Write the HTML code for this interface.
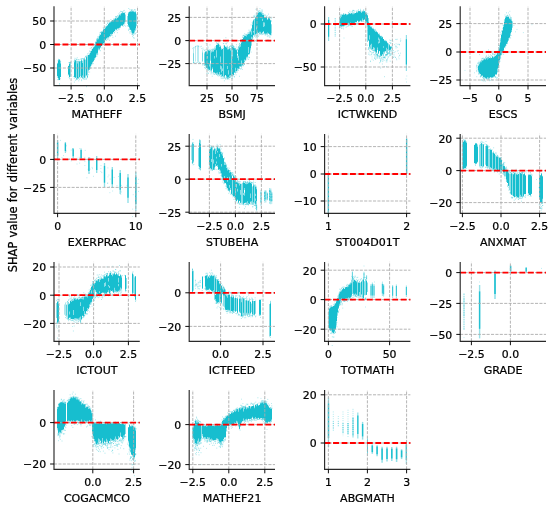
<!DOCTYPE html>
<html><head><meta charset="utf-8"><title>SHAP</title><style>html,body{margin:0;padding:0;background:#fff}svg{display:block}text{stroke:#000;stroke-width:.24px}</style></head><body>
<svg width="550" height="508" viewBox="0 0 550 508">
<rect width="550" height="508" fill="#fff"/>
<g font-family="DejaVu Sans, Liberation Sans, sans-serif" font-size="10.9" fill="#000">
<g>
<path d="M57 63.7h.5V75.9h-.5zM57.5 62.7h.5V76.7h-.5zM58 60.5h.5V78.2h-.5zM58.5 59.6h.5V79.4h-.5zM59 59.2h.5V80h-.5zM59.5 59.7h.5V80h-.5zM60 61.3h.5V76.9h-.5zM60.5 63.6h.5V77.1h-.5z" fill="#17becf" fill-opacity="1.0"/>
<path d="M57.8 79.6h0M57.9 60.8h0M57.6 77.5h0M58.5 79.4h0M58.6 59.3h0M58.2 79.7h0M59.6 83.6h0M59.7 84.9h0M60.1 60.4h0M59.9 79.7h0M60.7 61.4h0M60.4 78.3h0" stroke="#17becf" stroke-width="0.8" stroke-linecap="round" stroke-opacity="0.55" fill="none"/>
<path d="M68 65.7h.5V74.4h-.5zM68.5 66h.5V74.7h-.5zM69 64h.5V77h-.5zM69.5 62.1h.5V77.3h-.5zM70 62.5h.5V76.7h-.5z" fill="#17becf" fill-opacity="1.0"/>
<path d="M68.2 75.2h0M68.9 62.6h0M69 77.4h0M69.4 78.7h0M70.3 62.3h0M70.6 62.3h0" stroke="#17becf" stroke-width="0.8" stroke-linecap="round" stroke-opacity="0.55" fill="none"/>
<path d="M74 62.3h.5V77.2h-.5zM74.5 59.5h.5V77.3h-.5zM75 60.3h.5V77.4h-.5zM75.5 60.2h.5V77.9h-.5zM76.5 60.8h.5V77.8h-.5zM77 61.1h.5V78.2h-.5zM77.5 63.6h.5V77.9h-.5zM78.5 60.7h.5V77.9h-.5zM79 61.8h.5V77.1h-.5zM79.5 61.1h.5V77.5h-.5zM80 60.9h.5V76.3h-.5zM81 60.5h.5V77h-.5zM81.5 59.7h.5V77.5h-.5zM82 60.7h.5V77.6h-.5zM82.5 63.1h.5V75.4h-.5zM83.5 58.2h.5V77h-.5zM84 57.9h.5V78.1h-.5zM84.5 59.5h.5V77.5h-.5zM85.5 59.5h.5V76.7h-.5zM86 57.2h.5V76.1h-.5zM86.5 56.3h.5V75.1h-.5zM87 56.4h.5V78.1h-.5zM88 55h.5V71.4h-.5zM88.5 55.1h.5V69.8h-.5z" fill="#17becf" fill-opacity="1.0"/>
<path d="M74.1 61.4h0M73.7 76.5h0M74.2 78.4h0M75 58.3h0M74.3 82.1h0M75.3 80.3h0M76.1 59.3h0M76.3 79.7h0M76.2 78.9h0M76.3 59.2h0M76.4 79h0M76.7 78.4h0M77 59.6h0M76.6 78.7h0M77.2 78.5h0M77 60h0M77.4 77.8h0M77.2 57.8h0M77.6 79.4h0M78.5 59.5h0M77.7 77.8h0M78.4 78h0M78.3 78.7h0M78.7 77.8h0M78.8 80.8h0M79.4 79.3h0M79.7 59.9h0M80.1 78h0M81 59h0M81 77.5h0M81.2 59.3h0M81.7 79.7h0M81.3 58.9h0M81.7 80.7h0M82.2 58.5h0M82.2 77.5h0M82.4 77.3h0M82.7 58.9h0M82.8 77.9h0M83 78.3h0M83 78.2h0M83.5 77.7h0M83.9 79.1h0M84.1 78.8h0M84.8 57.7h0M85.1 79.4h0M85.5 56.6h0M85.1 77.7h0M84.7 95.2h0M85.9 56.9h0M85.7 77.9h0M86.1 56h0M86.5 86.7h0M87.1 55.4h0M86.6 79.2h0M87.6 56.1h0M86.8 78.3h0M88.3 55.2h0M87.6 76.5h0M87.2 76.5h0M87.7 53.8h0M88.4 74.7h0M88.9 53.1h0M88.7 72.3h0" stroke="#17becf" stroke-width="0.8" stroke-linecap="round" stroke-opacity="0.55" fill="none"/>
<path d="M89 54.7h.5V70h-.5zM89.5 53.6h.5V68.4h-.5zM90 52.9h.5V67.2h-.5zM90.5 51.5h.5V66h-.5zM91 50.9h.5V65.5h-.5zM91.5 50.5h.5V64h-.5zM92 49.1h.5V62.6h-.5zM92.5 48.5h.5V62.5h-.5zM93 47.2h.5V61.8h-.5zM93.5 47.6h.5V60.8h-.5zM94 46.7h.5V60h-.5zM94.5 45.6h.5V57.9h-.5zM95 44h.5V57.6h-.5zM95.5 42h.5V57.3h-.5zM96 42h.5V55h-.5zM96.5 40h.5V53.5h-.5zM97 39.4h.5V54.2h-.5zM97.5 38.2h.5V52.8h-.5zM98 39.2h.5V50.2h-.5zM98.5 37.6h.5V48.6h-.5zM99 35.2h.5V50.3h-.5zM99.5 36.3h.5V48.8h-.5zM100 34.9h.5V47h-.5zM100.5 34.8h.5V47.7h-.5zM101 32.4h.5V46.1h-.5zM101.5 31.6h.5V46.1h-.5zM102 32.1h.5V45.3h-.5zM102.5 30.8h.5V44.5h-.5zM103 29.6h.5V42.9h-.5zM103.5 29.2h.5V43.5h-.5zM104 29h.5V42.9h-.5zM104.5 28.7h.5V42h-.5zM105 27.2h.5V40.1h-.5zM105.5 28.2h.5V39.7h-.5zM106 26.7h.5V38.3h-.5zM106.5 26.1h.5V38.7h-.5zM107 25.8h.5V37.3h-.5zM107.5 24.9h.5V38.2h-.5zM108 24h.5V38.1h-.5zM108.5 23.4h.5V37h-.5zM109 22.6h.5V36.5h-.5zM109.5 22.7h.5V35.9h-.5zM110 22.3h.5V36h-.5zM110.5 22.3h.5V34.1h-.5zM111 21.5h.5V34.8h-.5zM111.5 21.1h.5V33.7h-.5zM112 20.1h.5V34h-.5zM112.5 20.2h.5V33.4h-.5zM113 19.5h.5V32.2h-.5zM113.5 20.4h.5V31.9h-.5zM114 19.3h.5V30.9h-.5zM114.5 19.6h.5V31.3h-.5zM115 18.6h.5V29.3h-.5zM115.5 18.1h.5V29.7h-.5zM116 19.3h.5V30.2h-.5zM116.5 17.7h.5V29.4h-.5zM117 17.5h.5V28.6h-.5zM117.5 18h.5V28.8h-.5zM118 17.2h.5V28.6h-.5zM118.5 15.7h.5V28.3h-.5zM119 15h.5V27.6h-.5zM119.5 15.3h.5V27.7h-.5zM120 15.6h.5V27.5h-.5zM120.5 13.8h.5V26.3h-.5zM121 13.5h.5V25.8h-.5zM121.5 12.9h.5V25.2h-.5zM122 13.2h.5V25.9h-.5zM122.5 12h.5V25.2h-.5zM123 13.1h.5V24.7h-.5zM123.5 12.4h.5V24.1h-.5zM124 12.6h.5V23.8h-.5zM124.5 13.2h.5V22.3h-.5zM125 14.6h.5V21.8h-.5z" fill="#17becf" fill-opacity="1.0"/>
<path d="M89.6 51h0M89.7 72h0M90.1 51.6h0M89.4 69.2h0M90.2 48.3h0M90.6 68.6h0M91.1 51.1h0M90.2 67.6h0M91.7 49.1h0M90.7 67h0M91.5 47.5h0M92 64h0M92.9 63.7h0M93 46.8h0M93 63.4h0M94 45.4h0M94.1 44.6h0M93.7 60.5h0M95.3 43.7h0M95.4 42.8h0M94.7 58.7h0M95.8 41.7h0M95.5 57.7h0M96.5 39.5h0M95.8 56.2h0M97.2 38.4h0M96.9 55.8h0M96.9 39.1h0M96.8 56.3h0M97.9 37.2h0M97.8 53.9h0M98.1 36.6h0M97.7 54.5h0M99.2 36.3h0M99.8 34.4h0M100.2 34.6h0M100.1 33.1h0M100.2 32.5h0M100.4 50.7h0M100.7 32.4h0M100.8 47.7h0M101.2 31.8h0M102.1 47.9h0M103.2 27.7h0M103.4 28.4h0M103 44.3h0M103.8 43.4h0M104.7 42.3h0M105.5 27h0M106.1 26.3h0M106.3 21.2h0M105.8 40.4h0M106.5 24.7h0M106.4 40.2h0M107.4 23.4h0M107.3 39.6h0M107.5 22.9h0M107.9 38.6h0M108.8 39h0M109.3 40.3h0M109 22.2h0M109.7 36.9h0M110.3 36.5h0M110.7 21.6h0M110.9 19.5h0M110.4 35.5h0M111.5 35.3h0M112.2 35.3h0M111.9 34h0M112.7 33.5h0M112.9 37.3h0M113.6 19h0M114.2 32.3h0M114.8 18.6h0M114.4 32.8h0M115.6 16.8h0M115.6 36.2h0M116 17h0M116 16.8h0M115.8 31h0M116.5 16.7h0M117 17.1h0M117.7 30.2h0M117.9 15.9h0M117.3 32.7h0M117.7 15.9h0M118.7 29.1h0M118.8 13.9h0M119.2 29.1h0M119.6 14.5h0M119.2 27.6h0M119.8 12.8h0M119.8 27.7h0M120.5 11.3h0M120.2 27h0M121.3 11.6h0M122.1 11.7h0M122.6 25.6h0M122.3 11.8h0M123.2 26.3h0M123.7 11h0M123.8 24.8h0M124.2 10.4h0M124.6 25.2h0M125.3 12.3h0M125.1 23h0M124.7 13.4h0M125.7 26.2h0" stroke="#17becf" stroke-width="0.8" stroke-linecap="round" stroke-opacity="0.55" fill="none"/>
<path d="M127.5 16.1h.5V23.9h-.5zM128 13.5h.5V25.3h-.5zM128.5 12.5h.5V27h-.5zM129 12.1h.5V28.3h-.5zM129.5 11.4h.5V27.5h-.5zM130 11.7h.5V29.7h-.5zM130.5 10.9h.5V29.8h-.5zM131 10.7h.5V30.4h-.5zM131.5 11.7h.5V32.2h-.5zM132 10.7h.5V32.9h-.5zM132.5 11.4h.5V34h-.5zM133 10.9h.5V33.1h-.5zM133.5 11.8h.5V33.9h-.5zM134 12.3h.5V32.7h-.5zM134.5 11.6h.5V30.6h-.5zM135 11.6h.5V30.8h-.5zM135.5 12.2h.5V28.2h-.5zM136 13.8h.5V26.3h-.5z" fill="#17becf" fill-opacity="1.0"/>
<path d="M128 14.9h0M128 25.4h0M128.7 12.7h0M127.7 26h0M128.5 30.4h0M128.5 29.2h0M128.8 8.5h0M129.6 29.4h0M129.6 28.7h0M130 33h0M130.1 29.1h0M129.9 9.7h0M130 31.8h0M130.8 29.8h0M131.3 30.7h0M131.1 10.2h0M131.8 34.1h0M131.1 31.5h0M131.8 9.9h0M131.6 32.6h0M131.8 10.3h0M132.3 34.1h0M132.7 36.6h0M132.2 9.9h0M132.5 34.3h0M133.8 10.3h0M133.2 35.2h0M133.2 35.2h0M133.7 37.7h0M134 33.9h0M134.8 33.9h0M134.4 9.7h0M134.2 38.2h0M135.2 9.8h0M134.7 31.6h0M135.4 33.7h0M135.6 11.3h0M136.2 32.4h0M136.1 29h0" stroke="#17becf" stroke-width="0.8" stroke-linecap="round" stroke-opacity="0.55" fill="none"/>
<path d="M71.1 85.6V6.2M104.3 85.6V6.2M137.5 85.6V6.2M54 21H139.8M54 44.5H139.8M54 68H139.8" stroke="#adadad" stroke-width="0.9" stroke-dasharray="3.07 1.33" fill="none"/>
<path d="M54 44.5H139.8" stroke="#f00" stroke-width="1.8" stroke-dasharray="5.9 2.56" fill="none"/>
<path d="M54 6.2V85.6H139.8" stroke="#2a2a2a" stroke-width="1.15" fill="none"/>
<path d="M71.1 85.6v3.9M104.3 85.6v3.9M137.5 85.6v3.9M54 21h-3.9M54 44.5h-3.9M54 68h-3.9" stroke="#000" stroke-width="0.95" fill="none"/>
<text x="71.1" y="102.2" text-anchor="middle">−2.5</text>
<text x="104.3" y="102.2" text-anchor="middle">0.0</text>
<text x="137.5" y="102.2" text-anchor="middle">2.5</text>
<text x="46.1" y="25.3" text-anchor="end">50</text>
<text x="46.1" y="48.8" text-anchor="end">0</text>
<text x="46.1" y="72.3" text-anchor="end">−50</text>
<text x="96.9" y="118.1" text-anchor="middle" font-size="11.05">MATHEFF</text>
</g>
<g>
<path d="M193 48.7h.5V62.9h-.5zM193.5 53.3h.5V61.3h-.5zM195.5 46.1h.5V61.4h-.5zM197 45.9h.5V61.4h-.5zM198.5 45.4h.5V62.5h-.5zM202 52.5h.5V61.5h-.5zM202.5 50.3h.5V61.4h-.5zM204 54.1h.5V61.8h-.5z" fill="#17becf" fill-opacity="0.6"/>
<path d="M192.8 48.4h0M193.5 62.3h0M193.4 47.8h0M193.5 62.7h0M194.2 47.8h0M194.3 62.4h0M195.8 63.6h0M195.3 46.7h0M196.2 46.2h0M197.3 45.7h0M196.2 62.6h0M197.4 62.3h0M198.5 46.3h0M199.4 62.3h0M200.1 46.8h0M199.4 63h0M200.3 63.4h0M201.3 46.3h0M200.4 63.1h0M201.8 48.6h0M202.4 63.6h0M203 48.1h0M202.9 65.2h0M203.1 49.7h0M203 64.5h0M204.5 50.4h0M204.8 65.5h0" stroke="#17becf" stroke-width="0.8" stroke-linecap="round" stroke-opacity="0.55" fill="none"/>
<path d="M204.5 52.6h.5V65.6h-.5zM205 51.4h.5V64.7h-.5zM205.5 52.1h.5V66.4h-.5zM206 51h.5V67.9h-.5zM206.5 51.8h.5V67.7h-.5zM207 50.1h.5V56.1h-.5zM207 58.4h.5V69.5h-.5zM207.5 53.4h.5V68.2h-.5zM208 50.4h.5V68.7h-.5zM208.5 50.2h.5V70.4h-.5zM209 50.7h.5V64.2h-.5zM209 66.6h.5V69.7h-.5zM209.5 50.8h.5V69.9h-.5zM210 50.4h.5V60.8h-.5zM210 63.6h.5V70.8h-.5zM211 50.7h.5V71.8h-.5zM211.5 52.4h.5V70.2h-.5zM212 49.8h.5V67.4h-.5zM212.5 51.7h.5V68.9h-.5zM213 50.6h.5V72.2h-.5zM213.5 51.8h.5V72.7h-.5zM214 49.8h.5V72.7h-.5zM214.5 49.3h.5V55.9h-.5zM214.5 58.6h.5V72.5h-.5zM215 49.4h.5V73.5h-.5zM215.5 48.1h.5V73.1h-.5zM216 45h.5V50.2h-.5zM216 57.5h.5V74.1h-.5zM216.5 44.8h.5V72.8h-.5zM217 44.7h.5V72.5h-.5zM217.5 44.4h.5V74.3h-.5zM218 43.7h.5V73.9h-.5zM218.5 44.3h.5V75h-.5zM219 44.7h.5V74.7h-.5zM219.5 46.9h.5V71.9h-.5zM220 46.6h.5V65.4h-.5zM220 69.2h.5V75.3h-.5zM220.5 46.5h.5V56.4h-.5zM220.5 62.5h.5V74.5h-.5zM221 49.7h.5V76.5h-.5zM221.5 48.4h.5V66.2h-.5zM221.5 72.5h.5V74.2h-.5zM222 49.1h.5V68.4h-.5zM222 70.9h.5V75.9h-.5zM222.5 49.1h.5V76.6h-.5zM223 47.9h.5V77.1h-.5zM224 45.7h.5V76.2h-.5zM224.5 45.1h.5V77.5h-.5zM225 46.5h.5V75.1h-.5zM225.5 47.1h.5V75.2h-.5zM226 46.9h.5V77.9h-.5zM226.5 47.7h.5V76.2h-.5zM227 46.6h.5V77.5h-.5zM227.5 49.5h.5V65.9h-.5zM227.5 69.1h.5V78.4h-.5zM228 48.5h.5V77.3h-.5zM228.5 49.5h.5V70.2h-.5zM228.5 74.4h.5V78.2h-.5zM229 48.3h.5V78h-.5zM229.5 48.4h.5V75.5h-.5zM230 48h.5V75.1h-.5zM230.5 50.5h.5V76.8h-.5zM231 46.1h.5V76.1h-.5zM232 45h.5V49.7h-.5zM232 56.5h.5V75.7h-.5zM232.5 46.9h.5V73.9h-.5zM233 46.2h.5V75.2h-.5zM233.5 47.8h.5V74.8h-.5zM234 48.1h.5V72.3h-.5zM234.5 48.4h.5V73h-.5zM235 49.5h.5V67.7h-.5zM235 70.7h.5V73h-.5zM235.5 48.3h.5V71.1h-.5zM236 49.2h.5V71h-.5zM236.5 50.2h.5V71.3h-.5zM237 48.8h.5V50.6h-.5zM237 55.6h.5V70.3h-.5zM237.5 51.7h.5V54h-.5zM237.5 57.9h.5V68.3h-.5zM238 46.8h.5V68.4h-.5zM238.5 49.7h.5V55.8h-.5zM238.5 60.4h.5V69.2h-.5zM239 47.6h.5V66.2h-.5zM239.5 45h.5V68.8h-.5zM240 46.7h.5V66.5h-.5zM240.5 44h.5V66.4h-.5zM241 42.7h.5V66.9h-.5zM241.5 41h.5V60.6h-.5zM241.5 64.5h.5V65.6h-.5zM242 39.2h.5V64.8h-.5zM242.5 38.9h.5V65.6h-.5z" fill="#17becf" fill-opacity="1.0"/>
<path d="M205.3 51.4h0M204.6 67.6h0M205.3 68h0M205.2 49.8h0M205.5 68.1h0M206.2 43.4h0M206.8 73.3h0M207.1 49.6h0M206.3 69h0M207.8 46.6h0M208.2 47.9h0M208 70.1h0M208.3 50h0M208 72.8h0M209.3 49.6h0M208.3 73.5h0M209.3 50.6h0M209.4 71h0M210 44.9h0M210.7 50.5h0M210.9 49.3h0M210.3 71.9h0M211 73.9h0M211.6 49.8h0M211.9 72.9h0M212.6 49.3h0M211.9 72.6h0M213.3 49.6h0M212.2 76.2h0M213.2 48.8h0M213.2 74.1h0M213.4 49.8h0M213.9 73.6h0M214.7 47.9h0M214.5 74.5h0M214.6 48.4h0M215.7 47.4h0M215.3 73.4h0M215.2 46.5h0M216.3 74.5h0M216.7 42.7h0M215.9 73.9h0M217.3 44h0M216.7 74.6h0M217 43.4h0M217.7 75.3h0M217.6 43.6h0M217.2 74.2h0M218.7 44.1h0M218 75h0M218.6 43.2h0M218.2 76.1h0M219.1 41.7h0M219.7 75.2h0M219.7 75.5h0M220.3 45.7h0M220.2 76.3h0M220.7 46.5h0M221 78h0M221.3 76.6h0M222 48.9h0M222 76.3h0M221.9 78.3h0M223.2 47.9h0M222.9 77.9h0M223.7 46h0M223.2 78.4h0M223.3 43.5h0M223.9 77.4h0M223.8 43.7h0M224.4 78.2h0M225 41.3h0M224.3 80.8h0M225.8 43.6h0M225 77.6h0M225.9 37.7h0M225.6 78.6h0M226.4 43.8h0M225.9 79.3h0M227.1 42.7h0M226.3 78.3h0M226.8 46.5h0M227.5 78.4h0M227.3 45.9h0M227.4 79.2h0M228.8 47.5h0M227.9 78.6h0M229.3 47.6h0M228.8 78.5h0M229 79.3h0M229.5 46.8h0M229.5 77.5h0M229.7 46.6h0M230.1 77.3h0M230.5 45.9h0M230.9 77.4h0M230.7 46.2h0M231.8 78.5h0M231.4 45.7h0M232.3 77.8h0M232.7 40.1h0M232.1 76.1h0M232.2 44.9h0M232.2 78.2h0M233.6 45.8h0M233.2 75.9h0M233.6 46.4h0M234.1 74.5h0M234.4 46.9h0M234.3 76.4h0M234.8 48.1h0M234.6 77h0M235.7 48.5h0M235.5 73.1h0M236.2 47h0M236 74.8h0M236.4 44.7h0M236.3 72.2h0M236.8 71h0M238.2 47.3h0M237.2 72.1h0M238.6 46.4h0M238 70.4h0M238.7 40.9h0M238.2 70.2h0M239.4 43.6h0M239.6 76.3h0M239.2 44.4h0M239.9 68.5h0M239.9 43.8h0M240.4 42h0M240.5 69h0M240.9 41.6h0M241.4 68.1h0M241.3 39.5h0M242.2 69.5h0M242.6 37.3h0M241.8 67.9h0M243.2 37.6h0M243 65.9h0" stroke="#17becf" stroke-width="0.8" stroke-linecap="round" stroke-opacity="0.55" fill="none"/>
<path d="M242.5 39.1h.5V64h-.5zM243 38h.5V64.2h-.5zM243.5 36.8h.5V63.9h-.5zM244 36.3h.5V59.6h-.5zM244.5 35.8h.5V62h-.5zM245 35.6h.5V60.8h-.5zM245.5 36.1h.5V59.8h-.5zM246 36.4h.5V57.9h-.5zM246.5 34.9h.5V56.8h-.5zM247 35h.5V56.4h-.5zM247.5 34.2h.5V56.7h-.5zM248 33.5h.5V47h-.5zM248 53h.5V54h-.5zM248.5 33.9h.5V55h-.5zM249 33.8h.5V54.2h-.5zM249.5 32h.5V53.4h-.5zM250 32.2h.5V50.5h-.5zM250.5 31.1h.5V48.2h-.5zM251 29.8h.5V30.6h-.5zM251 34.8h.5V45.3h-.5zM251.5 28.5h.5V36.7h-.5zM251.5 39.1h.5V41.6h-.5zM252 25h.5V39.8h-.5zM252.5 22.5h.5V37.3h-.5zM253 20.6h.5V31.1h-.5zM253 32.4h.5V35.1h-.5zM253.5 19.6h.5V35.4h-.5zM254.5 19h.5V35.2h-.5zM255 18.2h.5V35.6h-.5zM255.5 16.8h.5V34h-.5zM256 16.2h.5V26.6h-.5zM256 29.6h.5V33.9h-.5zM256.5 14.8h.5V33.3h-.5zM257 14.4h.5V34.3h-.5zM257.5 14.4h.5V31.8h-.5zM258 12.9h.5V32.9h-.5zM258.5 12.3h.5V32.7h-.5zM259 11.9h.5V31.7h-.5zM259.5 12.2h.5V33.8h-.5zM260 11.6h.5V31.8h-.5zM260.5 12.4h.5V33.4h-.5zM261 13.5h.5V33.5h-.5zM261.5 12.5h.5V33.6h-.5zM262 12.8h.5V33.1h-.5zM262.5 15h.5V18.8h-.5zM262.5 20.9h.5V31.9h-.5zM263 15.1h.5V22.3h-.5zM263 26.9h.5V32.2h-.5zM263.5 14.6h.5V30.9h-.5zM264 17.1h.5V22.6h-.5zM264 26.3h.5V33.4h-.5zM264.5 17.5h.5V33.2h-.5zM265 17.3h.5V33.5h-.5zM265.5 17.4h.5V34.1h-.5zM266 17h.5V33.5h-.5zM266.5 17.1h.5V33.7h-.5zM267 19h.5V34.6h-.5zM267.5 19.9h.5V32.4h-.5zM268 18.1h.5V34h-.5zM268.5 18.4h.5V33.1h-.5zM269 18.6h.5V34.6h-.5zM269.5 18.6h.5V34.3h-.5zM270 19.9h.5V34.7h-.5zM270.5 20.6h.5V34.9h-.5zM271 20.5h.5V21.6h-.5zM271 24.2h.5V33.5h-.5z" fill="#17becf" fill-opacity="1.0"/>
<path d="M243.3 35.3h0M243.2 65.6h0M242.8 36h0M243.3 64.9h0M243.5 35.5h0M244.3 64.4h0M244.7 36h0M244.4 64.5h0M244.8 35.4h0M244.2 61.9h0M244.7 33.8h0M244.7 61.9h0M245.9 34.4h0M246.2 59.8h0M246.8 34.4h0M246 58.5h0M246.2 34.6h0M247.2 58.8h0M247.8 34.3h0M247.4 57.3h0M248 33.2h0M247.8 56.8h0M248.1 32.6h0M248.4 59.3h0M249 32.2h0M249.2 57.6h0M248.9 30.2h0M249.1 57.2h0M250.2 30.2h0M249.4 53.8h0M249.7 31.4h0M250.1 51.1h0M251.1 24.9h0M251.1 52.1h0M251.4 28.9h0M250.7 46.1h0M252.3 27.3h0M251.3 45.4h0M252.2 22.7h0M252.4 41h0M252.9 21.6h0M252.9 37.8h0M253.8 16h0M252.9 37h0M254.3 16.3h0M254.2 41.3h0M254.5 17.4h0M254.8 36.2h0M254.2 16.3h0M254.5 35.9h0M255.1 15.1h0M255.7 37.1h0M256 9.3h0M256.1 41.4h0M256.2 13.3h0M256.3 35.3h0M257.1 13.6h0M256.6 37h0M257.6 13.6h0M257.6 37.6h0M258.3 12.1h0M257.6 35.8h0M257.9 11.2h0M258.4 36.4h0M259 11.5h0M258.9 34.1h0M258.8 10.9h0M258.9 35.2h0M259.8 10.5h0M259.8 33.7h0M260 8.6h0M260.3 34.1h0M261.3 10.1h0M260.2 34h0M261.7 12h0M261.8 34.7h0M261.7 12.4h0M262.3 34.1h0M262.2 11.4h0M261.7 33.6h0M262.5 10.1h0M262.7 34h0M263.6 13.6h0M263.7 33.9h0M263.9 15h0M264.3 33.6h0M264.7 15.1h0M263.9 33.8h0M264.9 15.9h0M265 34.9h0M265.5 15.1h0M265.8 33.7h0M266.3 16.6h0M266 34.5h0M266.7 17h0M265.7 34.9h0M267.1 15.6h0M267.1 34.3h0M266.9 17.8h0M267.2 36h0M268.1 17.2h0M268 36.7h0M268.4 14.1h0M268 39.7h0M268.4 18.1h0M268.2 35.5h0M269.2 18.4h0M269.7 37h0M269.4 16.8h0M270.1 37h0M269.9 19.3h0M269.9 35.2h0M271.1 17.3h0M271 35.3h0M271.1 18.6h0M271.5 34.3h0" stroke="#17becf" stroke-width="0.8" stroke-linecap="round" stroke-opacity="0.55" fill="none"/>
<path d="M207 85.6V6.2M232 85.6V6.2M257 85.6V6.2M189.2 17.4H275M189.2 40.6H275M189.2 63.6H275" stroke="#adadad" stroke-width="0.9" stroke-dasharray="3.07 1.33" fill="none"/>
<path d="M189.2 40.6H275" stroke="#f00" stroke-width="1.8" stroke-dasharray="5.9 2.56" fill="none"/>
<path d="M189.2 6.2V85.6H275" stroke="#2a2a2a" stroke-width="1.15" fill="none"/>
<path d="M207 85.6v3.9M232 85.6v3.9M257 85.6v3.9M189.2 17.4h-3.9M189.2 40.6h-3.9M189.2 63.6h-3.9" stroke="#000" stroke-width="0.95" fill="none"/>
<text x="207" y="102.2" text-anchor="middle">25</text>
<text x="232" y="102.2" text-anchor="middle">50</text>
<text x="257" y="102.2" text-anchor="middle">75</text>
<text x="181.3" y="21.7" text-anchor="end">25</text>
<text x="181.3" y="44.9" text-anchor="end">0</text>
<text x="181.3" y="67.9" text-anchor="end">−25</text>
<text x="232.1" y="118.1" text-anchor="middle" font-size="11.05">BSMJ</text>
</g>
<g>
<path d="M339.5 16.9h.5V26.2h-.5zM340 16.1h.5V26.5h-.5zM340.5 18.2h.5V26h-.5zM341 16.8h.5V26.4h-.5zM341.5 15.1h.5V26.5h-.5zM342 14.8h.5V26.3h-.5zM342.5 15h.5V26.3h-.5zM343 14.5h.5V26h-.5zM343.5 14.3h.5V26.4h-.5zM344 15h.5V26h-.5zM344.5 14.3h.5V25.1h-.5zM345 14.1h.5V25.6h-.5zM345.5 13.7h.5V24.7h-.5zM346 14h.5V25.3h-.5zM346.5 15.3h.5V24.9h-.5zM347 15h.5V24h-.5zM347.5 13.9h.5V25h-.5zM348 13.6h.5V25.1h-.5zM348.5 14.3h.5V22.7h-.5zM349 13.2h.5V24.6h-.5zM349.5 13.2h.5V25h-.5zM350 13.8h.5V23h-.5zM350.5 13.4h.5V22.4h-.5zM351 13.1h.5V24.3h-.5zM351.5 13.3h.5V24.3h-.5zM352 12.5h.5V24.1h-.5zM352.5 14.2h.5V24.5h-.5zM353 14.2h.5V23h-.5zM353.5 12.4h.5V23.5h-.5zM354 12.8h.5V23.9h-.5zM354.5 13.8h.5V22.7h-.5zM355 13.1h.5V22.3h-.5zM355.5 13h.5V22.2h-.5zM356 11.4h.5V22.2h-.5zM356.5 12.5h.5V22.1h-.5zM357 12.8h.5V20.9h-.5zM357.5 11.4h.5V20.6h-.5zM358 11.3h.5V21.8h-.5zM358.5 10.9h.5V21.7h-.5zM359 11.3h.5V21.8h-.5zM359.5 11h.5V21.3h-.5zM360 10.8h.5V20.2h-.5zM360.5 11.8h.5V21.3h-.5zM361 11.6h.5V20.9h-.5zM361.5 13h.5V20.8h-.5zM362 10.9h.5V18.5h-.5zM362.5 11.7h.5V20.5h-.5zM363 10.9h.5V20.5h-.5zM363.5 11.4h.5V19.9h-.5zM364 11.1h.5V19.5h-.5zM364.5 11.3h.5V19.4h-.5zM365 11.4h.5V21.4h-.5zM365.5 12.9h.5V20.8h-.5zM366 13.8h.5V21.8h-.5zM366.5 13.9h.5V23h-.5zM367 14.8h.5V24.6h-.5zM367.5 15.6h.5V24.7h-.5zM368 18.1h.5V29.4h-.5z" fill="#17becf" fill-opacity="1.0"/>
<path d="M340.2 15.6h0M339.3 27.3h0M340.3 15.8h0M340.8 27.1h0M340.3 27h0M340.8 14.5h0M341.8 28.5h0M341.4 14.4h0M341.8 28h0M342.6 14.8h0M341.8 26.7h0M343.6 13.6h0M343.5 28.9h0M343.5 14h0M343.2 27h0M345 14.1h0M344.7 25.9h0M346.1 27.3h0M347.1 26.5h0M348.3 12.7h0M348.2 25.7h0M348.4 25.9h0M348.8 12.6h0M349.6 25.4h0M349.8 11.2h0M350.4 25.6h0M351.1 24.8h0M351 12.2h0M351.8 25.8h0M352.2 26.6h0M352.2 11.6h0M352.8 10.4h0M352.7 11.1h0M352.8 24.7h0M353.5 10.4h0M353.7 10.8h0M354.5 24.7h0M354.5 11h0M355.6 23.9h0M356.2 23.5h0M356.1 23.2h0M356.2 11h0M356.5 24.2h0M357.6 23.7h0M358 10.4h0M358.2 23h0M358.5 9.8h0M358.1 23.7h0M358.8 22h0M358.8 23.8h0M360.3 10.9h0M360.5 9.3h0M360.8 10.5h0M361.6 21.4h0M361.7 21.3h0M362.6 21.3h0M363.1 10.6h0M363.3 20.9h0M363.7 21.6h0M363.8 10.2h0M364.2 24.1h0M363.7 10h0M365.2 22.2h0M365.2 21.7h0M365.5 22.6h0M366.5 12.8h0M366.6 13.6h0M367.3 25.8h0M367.8 13.7h0M367.6 24.7h0M367.3 26.1h0M367.9 30.7h0" stroke="#17becf" stroke-width="0.8" stroke-linecap="round" stroke-opacity="0.55" fill="none"/>
<path d="M367.5 21.1h.5V42h-.5zM368 22.1h.5V40.2h-.5zM368.5 22.8h.5V40.9h-.5zM369 23.1h.5V47.1h-.5zM369.5 25.5h.5V35.3h-.5zM369.5 39.6h.5V46.4h-.5zM370 25.5h.5V44.7h-.5zM370.5 26.9h.5V47.7h-.5zM371 26.7h.5V43.8h-.5zM371.5 27.5h.5V48.5h-.5zM372 28h.5V49.3h-.5zM372.5 29h.5V49.1h-.5zM373 29.3h.5V46.9h-.5zM373.5 28.8h.5V48.8h-.5zM374 30.8h.5V47.8h-.5zM374.5 30h.5V51h-.5zM375 30.3h.5V52.3h-.5zM375.5 32.1h.5V51h-.5zM376 31.4h.5V52.3h-.5zM376.5 31.6h.5V53.2h-.5zM377 32.6h.5V50.1h-.5zM377.5 32.6h.5V47.5h-.5zM378 33.7h.5V37.5h-.5zM378 40.2h.5V53.3h-.5zM378.5 34.2h.5V41.6h-.5zM378.5 43.5h.5V54.1h-.5zM379 34.4h.5V38.7h-.5zM379 43h.5V51.1h-.5zM379.5 35.3h.5V51.2h-.5zM380 36.2h.5V54.8h-.5zM380.5 35.8h.5V56.4h-.5zM381 36h.5V55.7h-.5zM381.5 37.5h.5V56.1h-.5zM382 37.1h.5V54.2h-.5zM382.5 37.5h.5V54.6h-.5zM383 39h.5V56.2h-.5zM383.5 39h.5V46.2h-.5zM383.5 47.8h.5V51.8h-.5zM384 40.8h.5V51.6h-.5zM384.5 40.2h.5V53.6h-.5zM385 40.4h.5V51h-.5zM385.5 41.2h.5V51.6h-.5zM386 41h.5V53.3h-.5zM386.5 41.5h.5V47.8h-.5zM387 42.4h.5V54.8h-.5zM387.5 43.3h.5V49.2h-.5zM388 43.4h.5V50.7h-.5zM389 44.2h.5V50h-.5zM389.5 45.2h.5V52.4h-.5zM390 46.3h.5V50.1h-.5zM390.5 46.8h.5V49.5h-.5zM390.5 49.9h.5V50.5h-.5zM391 46.5h.5V48.4h-.5zM391.5 46.9h.5V47.4h-.5z" fill="#17becf" fill-opacity="1.0"/>
<path d="M368.2 49.5h0M367.6 45.2h0M368.7 49h0M368.5 47.9h0M368.9 53h0M368.6 47.9h0M369.4 50.8h0M368.9 54.5h0M369.1 48.3h0M369.7 48.9h0M370.2 51.7h0M369.8 47.2h0M369.7 47.5h0M370.3 47.6h0M370.8 51.6h0M370.8 48.5h0M371.3 48.6h0M370.9 48.6h0M371.8 26.8h0M371.2 49.5h0M372.1 52.8h0M372.3 50.5h0M371.7 49.3h0M371.8 53.1h0M373.1 28.1h0M372.6 49.6h0M373.3 50.1h0M373.3 49.9h0M373.1 52.6h0M373.2 28.9h0M373.6 52.2h0M373.7 50.7h0M373.9 50.4h0M373.9 54.3h0M374.5 58.2h0M374.8 51.1h0M374.6 29.5h0M375.2 51.5h0M374.9 54.5h0M375.3 29.4h0M375.3 51.9h0M375.3 55.3h0M376.3 52.8h0M375.7 59.1h0M375.6 53h0M375.7 59.1h0M376.4 57.9h0M375.7 53.7h0M376.2 31.1h0M377.3 54.1h0M376.8 54.5h0M377 54.6h0M377.8 58.4h0M377.7 57.1h0M377.6 32.7h0M377.7 55h0M377.8 54.2h0M377.7 55.6h0M377.7 55.6h0M377.9 56.4h0M378.3 55.7h0M379.3 56.6h0M379.2 33.4h0M379.4 57.1h0M379.4 62.8h0M379.6 34.4h0M379.2 56.2h0M379.9 58.6h0M380.7 68.1h0M379.9 56.4h0M379.8 55.2h0M380.4 59.1h0M380.7 56h0M380.5 60.6h0M381.6 58.3h0M380.8 61.7h0M381.5 36.2h0M382.3 64h0M382.1 56.9h0M381.2 57.4h0M382.5 37.1h0M381.8 60h0M382.8 61.6h0M382.5 37.4h0M382.8 59.9h0M382.8 58h0M383.7 57.3h0M383.1 59.2h0M383.6 57.7h0M384.2 66.5h0M384.3 57h0M384.1 60.3h0M384.2 57.1h0M384.4 76.7h0M384.7 57.4h0M384.6 57.9h0M385.4 55.3h0M384.9 57.6h0M385.6 58h0M385.9 40.3h0M386.2 54.7h0M385.8 56.4h0M386.2 60.2h0M385.7 55.2h0M385.9 54.5h0M386.1 54.5h0M386.2 55h0M386.3 66.6h0M387.7 58.4h0M386.7 54.7h0M387.2 53.8h0M388.1 56.6h0M387.2 55.2h0M387.7 54.2h0M388.3 52.9h0M388.2 57.3h0M388.2 53h0M389 53.9h0M389 53.5h0M388.9 53.1h0M389.7 55.8h0M389.9 52h0M390.2 61.2h0M390.6 54.1h0M390.2 54h0M390.9 51.3h0M390.7 55.5h0M391.3 54.7h0M392.1 46.4h0M392.2 52.1h0M391.3 53.4h0" stroke="#17becf" stroke-width="0.8" stroke-linecap="round" stroke-opacity="0.55" fill="none"/>
<path d="M328.6 17V41" stroke="#17becf" stroke-width="1.2" stroke-opacity="0.47"/>
<path d="M328.6 19.9V36.7" stroke="#17becf" stroke-width="1.2" stroke-opacity="0.95"/>
<path d="M335.2 18V37" stroke="#17becf" stroke-width="0.9" stroke-opacity="0.55" stroke-dasharray="1.5 0.8"/>
<path d="M406.4 35V71" stroke="#17becf" stroke-width="1.2" stroke-opacity="0.47"/>
<path d="M406.4 39.3V64.5" stroke="#17becf" stroke-width="1.2" stroke-opacity="0.95"/>
<path d="M392.9 41.3h0M396.8 39.6h0M395.4 46h0M389.7 49.2h0M389.4 47.5h0M389.8 40h0M394.1 56.2h0M390.5 42.9h0M396.5 58.8h0M395.9 46.7h0M400.7 39h0M399.3 44.4h0M390.7 40.6h0M392.7 56h0M391.2 50.8h0M396.7 46.2h0M395.6 39.4h0M389.7 42.5h0M397.2 47.4h0M392.8 50.9h0M394.4 44.6h0M398.5 53.4h0M391.9 50.6h0M395.3 57.3h0M397.8 44.3h0M400.8 40.6h0M394 54.7h0M390.8 48.8h0M389.5 52.7h0M398.2 50.6h0M399.5 44.9h0M397.3 51.1h0M396 48h0M399.1 58.8h0M394.7 52.6h0M389.7 53.4h0M396.8 59.8h0M398.9 44.3h0M393.6 52.7h0M389.3 48.2h0M391 40.6h0M389.7 54.9h0M390.6 43.4h0M393.7 57.2h0M390 47.9h0M395.6 57.4h0M398.8 57h0M392.3 47.1h0M393.3 57.5h0M400.5 41.3h0M391.1 43.1h0M391.8 48.7h0M396.1 43.8h0M389 47.2h0M393.4 50.5h0M400.4 53.2h0M395.2 51.6h0M397.1 39.2h0M399.8 55.2h0M399.5 55.6h0M377.8 57.2h0M372.1 59.1h0M371.2 54.5h0M374.2 55.3h0M376.8 54.4h0M370 55.2h0M372 56.9h0M370.5 61h0M382.3 55.2h0M375 56.8h0M377.3 55h0M387 61.9h0M379.3 57.9h0M371.7 54.8h0M376.9 56.1h0M386.6 55.3h0M370.5 61.6h0M380.6 55.2h0M380.9 54.2h0M380.6 61.8h0M387.3 59.6h0M375.2 56.9h0M373.3 60.2h0M380.7 60.2h0M376.6 55.8h0M386.2 61.9h0M387.1 60.4h0M386.4 59.9h0M374.5 58.1h0M377.1 54.2h0M406.4 82h0M344 38h0M406.8 76h0M406 79h0" stroke="#17becf" stroke-width="0.9" stroke-linecap="round" stroke-opacity="0.4" fill="none"/>
<path d="M339.6 85.6V6.2M365.8 85.6V6.2M392.4 85.6V6.2M324.6 24H410.4M324.6 67H410.4" stroke="#adadad" stroke-width="0.9" stroke-dasharray="3.07 1.33" fill="none"/>
<path d="M324.6 24H410.4" stroke="#f00" stroke-width="1.8" stroke-dasharray="5.9 2.56" fill="none"/>
<path d="M324.6 6.2V85.6H410.4" stroke="#2a2a2a" stroke-width="1.15" fill="none"/>
<path d="M339.6 85.6v3.9M365.8 85.6v3.9M392.4 85.6v3.9M324.6 24h-3.9M324.6 67h-3.9" stroke="#000" stroke-width="0.95" fill="none"/>
<text x="339.6" y="102.2" text-anchor="middle">−2.5</text>
<text x="365.8" y="102.2" text-anchor="middle">0.0</text>
<text x="392.4" y="102.2" text-anchor="middle">2.5</text>
<text x="316.7" y="28.3" text-anchor="end">0</text>
<text x="316.7" y="71.3" text-anchor="end">−50</text>
<text x="367.5" y="118.1" text-anchor="middle" font-size="11.05">ICTWKEND</text>
</g>
<g>
<path d="M478 65.5h.5V70.6h-.5zM478.5 65.6h.5V71.7h-.5zM479 64.3h.5V72.7h-.5zM479.5 62.8h.5V73.5h-.5zM480 62.6h.5V74.3h-.5zM480.5 62h.5V74.2h-.5zM481 61.2h.5V75.3h-.5zM481.5 62.3h.5V75.9h-.5zM482 60.2h.5V74.9h-.5zM482.5 60.7h.5V76.3h-.5zM483 60.2h.5V77h-.5zM483.5 60.1h.5V77.3h-.5zM484 59.6h.5V76.9h-.5zM484.5 58.8h.5V77.7h-.5zM485 59.5h.5V77.8h-.5zM485.5 59.2h.5V77.9h-.5zM486 58.6h.5V78.5h-.5zM486.5 58.2h.5V78.1h-.5zM487 59.5h.5V78.1h-.5zM487.5 58.7h.5V76.9h-.5zM488 58.7h.5V78.6h-.5zM488.5 57.7h.5V77.4h-.5zM489 58h.5V77.7h-.5zM489.5 57.9h.5V78.1h-.5zM490 58.2h.5V77.2h-.5zM490.5 57h.5V76.9h-.5zM491 58.1h.5V77.7h-.5zM491.5 57.7h.5V77.2h-.5zM492 56.5h.5V77.4h-.5zM492.5 56.2h.5V77.1h-.5zM493 56.8h.5V76.8h-.5zM493.5 57.7h.5V76.4h-.5zM494 56.9h.5V76.5h-.5zM494.5 55.8h.5V75.9h-.5zM495 56h.5V74.5h-.5zM495.5 55.6h.5V74.4h-.5zM496 54.8h.5V74.6h-.5zM496.5 54.8h.5V73.9h-.5zM497 53h.5V72.6h-.5zM497.5 53.2h.5V68.5h-.5zM498 51.7h.5V68.3h-.5zM498.5 50.1h.5V66.3h-.5zM499 48.4h.5V62.5h-.5zM499.5 45.3h.5V60.1h-.5zM500 42.5h.5V57.5h-.5zM500.5 38.2h.5V55.2h-.5zM501 35.1h.5V55.2h-.5zM501.5 33.5h.5V53.3h-.5zM502 31.1h.5V51.8h-.5zM502.5 29.7h.5V51.9h-.5zM503 26.9h.5V51.5h-.5zM503.5 24.8h.5V49.9h-.5zM504 21.9h.5V47.5h-.5zM504.5 19.6h.5V47.8h-.5zM505 17.5h.5V46.5h-.5zM505.5 17.7h.5V45.4h-.5zM506 16.5h.5V44.2h-.5zM506.5 16.4h.5V43.8h-.5zM507 16.9h.5V42.6h-.5zM507.5 16.5h.5V41.8h-.5zM508 16.3h.5V40.3h-.5zM508.5 16.9h.5V38.3h-.5zM509 18.9h.5V38.2h-.5zM509.5 17.7h.5V37.2h-.5zM510 18.2h.5V35.4h-.5zM510.5 19.4h.5V33.2h-.5zM511 19.3h.5V31.9h-.5zM511.5 20.7h.5V30.3h-.5zM512 21.8h.5V27.7h-.5z" fill="#17becf" fill-opacity="1.0"/>
<path d="M478.6 63.4h0M478.6 71.5h0M478.2 62.7h0M479 74.3h0M479.4 62.4h0M478.9 72.9h0M479.4 54.6h0M480.3 76.9h0M480.5 62.3h0M480.3 76.7h0M480.3 61.5h0M480.5 76.1h0M481.7 61.2h0M481.6 76.2h0M482.2 58.6h0M481.7 80.2h0M481.8 60.4h0M481.7 79.7h0M482.5 58.7h0M482.9 77.4h0M483.1 58h0M483.8 78.4h0M483.4 59.1h0M483.9 81.1h0M483.8 59.2h0M484 77.9h0M484.6 59h0M484.3 79.7h0M485.8 57.9h0M484.7 79.9h0M485.2 58.5h0M485.3 81.1h0M486.5 55.9h0M486.2 78.6h0M487 58.2h0M486.4 78.7h0M487.6 58h0M487.6 78.7h0M487.7 58h0M488.2 78.6h0M488.7 55.1h0M488 79.1h0M488.4 49.9h0M488.7 78.9h0M489 57.4h0M489.6 80.7h0M489.8 56.5h0M489.6 78.5h0M490.4 54.7h0M490.3 80.3h0M491.3 55.5h0M490.9 77.8h0M491 56.2h0M491.6 77.8h0M492.3 53.5h0M491.7 79.6h0M492.8 56.1h0M492.4 77.5h0M492.9 54.1h0M492.5 80h0M492.8 54.4h0M493.2 77.1h0M494.3 54.9h0M494.2 76.7h0M493.9 53.9h0M493.8 76.7h0M494.3 54.5h0M495.3 76.4h0M495.2 54.2h0M495.7 77.1h0M495.9 53.8h0M495.8 77.3h0M496.3 52.6h0M496.6 74.5h0M497.3 52.7h0M497.2 77.6h0M497.2 52.6h0M496.8 78.3h0M497.2 51.1h0M497.9 71.5h0M498.7 47.5h0M498.6 69.7h0M499 49h0M498.3 67.3h0M498.7 45.5h0M498.7 63.7h0M499.8 45.2h0M500.1 61.1h0M500.5 40.7h0M500.7 57.8h0M500.6 34.3h0M500.5 58.8h0M500.9 32.3h0M500.7 57.9h0M501.9 31.2h0M501.3 54.5h0M501.8 31h0M502.8 53.8h0M502.7 28.3h0M502.6 52.5h0M502.8 25h0M503.7 54.3h0M504.3 22h0M503.3 50.6h0M504.3 19.8h0M504 50.9h0M505 15h0M504.4 51.5h0M505.5 17.1h0M505.2 47.9h0M505.3 16.6h0M505.4 45.8h0M506.7 16h0M506.1 45.5h0M506.4 12.8h0M506.9 43.8h0M507.4 15.8h0M507.6 43.4h0M507.2 15.8h0M507.6 42.7h0M507.8 15.2h0M508.6 40.5h0M509.1 15.9h0M508.3 39.5h0M509.4 14.7h0M508.7 38.9h0M510.3 17.7h0M510.1 37.3h0M510.2 16.2h0M510.2 35.7h0M511.3 17.9h0M511.1 35.5h0M510.9 17.6h0M510.9 32.2h0M511.3 18.9h0M511.5 31.3h0M512.7 21.4h0M511.7 28.9h0" stroke="#17becf" stroke-width="0.8" stroke-linecap="round" stroke-opacity="0.55" fill="none"/>
<path d="M517 29.4h0M523.3 32.6h0M510.7 38.1h0M532 24.7h0M513.9 25.5h0M515.4 31.8h0M474.5 72.8h0M476.8 76.7h0M482.3 80.7h0M509.9 11.3h0M508.4 12.9h0M465 70.4h0M488.5 77.7h0M480.5 75.7h0M487.9 57.9h0M486.8 56.3h0M487.9 58.2h0M482.7 75.4h0M483.3 75.8h0M477.4 63.6h0M483.9 59h0M478.2 62.8h0M486.2 78.6h0M485.9 57.2h0M481.3 60.7h0M482.7 77.7h0M478.5 73.8h0M488.4 58h0M476.9 71.7h0M481.5 62h0M485.4 76.6h0M485.7 57.1h0M483.8 78.4h0M488.7 57.1h0M478.9 72.9h0M485.5 76.2h0M488.3 57.2h0M476.3 67.1h0M476.8 70.5h0M484 60h0M481.7 74.9h0M481.3 75.9h0M481.2 75h0M484.2 78.8h0M479.2 72.6h0M476.8 65h0M476.7 71h0M477.7 68h0M479.6 67.4h0M479.2 69.8h0M489.3 79.5h0M483.5 76.9h0M480.5 61.2h0M479.5 73.5h0M477 66.1h0M485.6 78.1h0M481.9 75h0M481.8 60.2h0M477.1 65.9h0M486.3 58.2h0M478.5 64.4h0M477.2 67.6h0M477.9 69.6h0M476.3 68.9h0M478.9 61.2h0M487.5 58.6h0M476.5 65.9h0M484.5 60h0M485.2 77.6h0M487 77.4h0M486.7 78.8h0M481.3 58.9h0" stroke="#17becf" stroke-width="0.9" stroke-linecap="round" stroke-opacity="0.4" fill="none"/>
<path d="M470 85.6V6.2M498.8 85.6V6.2M528 85.6V6.2M460.2 23.6H546M460.2 52H546M460.2 80H546" stroke="#adadad" stroke-width="0.9" stroke-dasharray="3.07 1.33" fill="none"/>
<path d="M460.2 52H546" stroke="#f00" stroke-width="1.8" stroke-dasharray="5.9 2.56" fill="none"/>
<path d="M460.2 6.2V85.6H546" stroke="#2a2a2a" stroke-width="1.15" fill="none"/>
<path d="M470 85.6v3.9M498.8 85.6v3.9M528 85.6v3.9M460.2 23.6h-3.9M460.2 52h-3.9M460.2 80h-3.9" stroke="#000" stroke-width="0.95" fill="none"/>
<text x="470" y="102.2" text-anchor="middle">−5</text>
<text x="498.8" y="102.2" text-anchor="middle">0</text>
<text x="528" y="102.2" text-anchor="middle">5</text>
<text x="452.3" y="27.9" text-anchor="end">25</text>
<text x="452.3" y="56.3" text-anchor="end">0</text>
<text x="452.3" y="84.3" text-anchor="end">−25</text>
<text x="503.1" y="118.1" text-anchor="middle" font-size="11.05">ESCS</text>
</g>
<g>
<path d="M57.6 140V159" stroke="#17becf" stroke-width="1.3" stroke-opacity="0.50"/>
<path d="M57.6 142.3V155.6" stroke="#17becf" stroke-width="1.3" stroke-opacity="1.00"/>
<path d="M65.4 142V153" stroke="#17becf" stroke-width="1.3" stroke-opacity="0.50"/>
<path d="M65.4 143.3V151" stroke="#17becf" stroke-width="1.3" stroke-opacity="1.00"/>
<path d="M73.2 148V158" stroke="#17becf" stroke-width="1.3" stroke-opacity="0.50"/>
<path d="M73.2 149.2V156.2" stroke="#17becf" stroke-width="1.3" stroke-opacity="1.00"/>
<path d="M81.1 148.6V160" stroke="#17becf" stroke-width="1.3" stroke-opacity="0.50"/>
<path d="M81.1 150V157.9" stroke="#17becf" stroke-width="1.3" stroke-opacity="1.00"/>
<path d="M88.9 157V174" stroke="#17becf" stroke-width="1.3" stroke-opacity="0.50"/>
<path d="M88.9 159V170.9" stroke="#17becf" stroke-width="1.3" stroke-opacity="1.00"/>
<path d="M96.7 156V173" stroke="#17becf" stroke-width="1.3" stroke-opacity="0.50"/>
<path d="M96.7 158V169.9" stroke="#17becf" stroke-width="1.3" stroke-opacity="1.00"/>
<path d="M104.5 163V187" stroke="#17becf" stroke-width="1.3" stroke-opacity="0.50"/>
<path d="M104.5 165.9V182.7" stroke="#17becf" stroke-width="1.3" stroke-opacity="1.00"/>
<path d="M112.3 167V188" stroke="#17becf" stroke-width="1.3" stroke-opacity="0.50"/>
<path d="M112.3 169.5V184.2" stroke="#17becf" stroke-width="1.3" stroke-opacity="1.00"/>
<path d="M120.2 170V194" stroke="#17becf" stroke-width="1.3" stroke-opacity="0.50"/>
<path d="M120.2 172.9V189.7" stroke="#17becf" stroke-width="1.3" stroke-opacity="1.00"/>
<path d="M128 174V203" stroke="#17becf" stroke-width="1.3" stroke-opacity="0.50"/>
<path d="M128 177.5V197.8" stroke="#17becf" stroke-width="1.3" stroke-opacity="1.00"/>
<path d="M135.8 172V211" stroke="#17becf" stroke-width="1.3" stroke-opacity="0.50"/>
<path d="M135.8 176.7V204" stroke="#17becf" stroke-width="1.3" stroke-opacity="1.00"/>
<path d="M77.1 158.3h0M93.6 176.3h0M109.9 192.7h0M107.9 167.9h0M138.7 179.3h0M108.9 175.1h0M101.8 172.6h0M92.5 168.7h0M114.1 177.4h0M121.3 185.4h0M62 157.6h0M85.2 150.4h0M86.9 177.8h0M71.2 150.1h0M107.6 183.3h0M88.1 169.3h0M120.8 191h0M63.5 155.6h0M72.6 149.2h0M58.8 160h0M66.4 145.8h0M92.1 167.4h0M101 165.6h0M90 158h0M84.9 165.5h0M84.9 161.6h0M90 169.2h0M79.2 157.3h0M71.2 160.9h0M84.8 157.4h0M120.6 175.7h0M110.1 179.1h0M138.6 191.4h0M112.7 191h0M118.5 176.5h0M79.7 163.1h0M132.6 216.5h0M60.6 140.4h0M137.9 183.5h0M69.3 158.6h0M107.8 183.1h0M89.7 172.9h0M57.2 143.9h0M108 176.8h0M100.9 168.6h0M77 164h0M79.8 148.6h0M100.9 171.4h0M133.2 194.7h0M54 160.4h0M72.4 148.7h0M55.8 155.7h0M66.2 151h0M74.6 159.5h0M127 185.4h0M109.3 186.6h0M132.7 209.1h0M121.3 192h0M117 185.7h0M120.8 194.4h0" stroke="#17becf" stroke-width="0.9" stroke-linecap="round" stroke-opacity="0.4" fill="none"/>
<path d="M57.6 213.3V133.9M135.8 213.3V133.9M54 159.4H139.8M54 187.4H139.8" stroke="#adadad" stroke-width="0.9" stroke-dasharray="3.07 1.33" fill="none"/>
<path d="M54 159.4H139.8" stroke="#f00" stroke-width="1.8" stroke-dasharray="5.9 2.56" fill="none"/>
<path d="M54 133.9V213.3H139.8" stroke="#2a2a2a" stroke-width="1.15" fill="none"/>
<path d="M57.6 213.3v3.9M135.8 213.3v3.9M54 159.4h-3.9M54 187.4h-3.9" stroke="#000" stroke-width="0.95" fill="none"/>
<text x="57.6" y="229.9" text-anchor="middle">0</text>
<text x="135.8" y="229.9" text-anchor="middle">10</text>
<text x="46.1" y="163.7" text-anchor="end">0</text>
<text x="46.1" y="191.7" text-anchor="end">−25</text>
<text x="96.9" y="245.8" text-anchor="middle" font-size="11.05">EXERPRAC</text>
</g>
<g>
<path d="M191.5 144.5h.5V159.9h-.5zM192 143.3h.5V163.2h-.5zM192.5 142.1h.5V164.1h-.5zM193 144h.5V162.7h-.5zM193.5 143.8h.5V161.6h-.5z" fill="#17becf" fill-opacity="0.8"/>
<path d="M192.3 162.1h0M192.2 162.8h0M193 139.4h0M193.1 164.8h0M193.7 142.8h0M193.9 164.4h0" stroke="#17becf" stroke-width="0.8" stroke-linecap="round" stroke-opacity="0.55" fill="none"/>
<path d="M198.5 148h.5V166.3h-.5zM199 142.7h.5V167.1h-.5zM199.5 140.3h.5V169.5h-.5zM200 140.3h.5V169.9h-.5zM200.5 144.3h.5V168.1h-.5z" fill="#17becf" fill-opacity="1.0"/>
<path d="M199.2 145.9h0M198.9 168.3h0M199.6 141.2h0M199.8 140.2h0M199.7 139.8h0M200.4 170.1h0" stroke="#17becf" stroke-width="0.8" stroke-linecap="round" stroke-opacity="0.55" fill="none"/>
<path d="M209 149.3h.5V153.1h-.5zM209 155.5h.5V165.1h-.5zM209.5 150h.5V166h-.5zM210 149.1h.5V168.4h-.5zM210.5 147.3h.5V168.3h-.5zM211 147.4h.5V169.2h-.5zM211.5 146h.5V158.9h-.5zM211.5 162h.5V169.2h-.5zM212 146.8h.5V170.1h-.5zM213 149.6h.5V159.4h-.5zM213 163.6h.5V169.9h-.5zM213.5 150.4h.5V169.6h-.5zM214 149h.5V169.4h-.5zM214.5 148.3h.5V167.4h-.5zM215 149.3h.5V166.5h-.5zM215.5 154h.5V164h-.5zM216 150.7h.5V161.6h-.5zM216 163.4h.5V165.7h-.5zM216.5 149.3h.5V156.7h-.5zM216.5 158.5h.5V165.9h-.5zM217 146.2h.5V165.2h-.5zM217.5 147.6h.5V151h-.5zM217.5 152.6h.5V167h-.5zM218 148.1h.5V169.6h-.5zM218.5 148.7h.5V170.1h-.5zM219 148h.5V170.4h-.5zM219.5 148.7h.5V153.9h-.5zM219.5 156.9h.5V169.1h-.5zM220 150.2h.5V170.5h-.5zM220.5 151.9h.5V173.4h-.5zM221 154.2h.5V164.1h-.5zM221 166.5h.5V173.3h-.5zM221.5 151.8h.5V176.8h-.5zM222 153.1h.5V177.3h-.5zM222.5 155.8h.5V179.5h-.5zM223 158.1h.5V179.7h-.5zM223.5 158.6h.5V181.1h-.5zM224 161.7h.5V183.4h-.5zM224.5 165.1h.5V175.9h-.5zM224.5 178.9h.5V182.4h-.5zM225 162.4h.5V183.2h-.5zM225.5 165.1h.5V183h-.5zM226 165.3h.5V186.9h-.5zM226.5 167.9h.5V184.6h-.5zM227 168.2h.5V188.4h-.5zM227.5 170.4h.5V177h-.5zM227.5 181.7h.5V187.9h-.5zM228 169.5h.5V189.7h-.5zM228.5 169.7h.5V190.4h-.5zM229 170.1h.5V185.1h-.5zM229 187.8h.5V190.5h-.5zM229.5 172.7h.5V176.8h-.5zM229.5 179.8h.5V191.7h-.5zM230 172.2h.5V189.9h-.5zM230.5 171.8h.5V188.1h-.5zM231 172.6h.5V194.2h-.5zM231.5 175.6h.5V193.8h-.5zM232 173.6h.5V176h-.5zM232 177.9h.5V195h-.5zM233 175.3h.5V196.8h-.5zM233.5 175.8h.5V196.1h-.5zM234 176.8h.5V197.8h-.5zM234.5 177.6h.5V178.7h-.5zM234.5 180.5h.5V196h-.5zM235 178.2h.5V199.6h-.5zM235.5 179.6h.5V188.5h-.5zM235.5 193.1h.5V200.5h-.5zM236 182.2h.5V201.5h-.5zM236.5 181.4h.5V184h-.5zM236.5 187.4h.5V200.9h-.5zM237 181.4h.5V188.8h-.5zM237 191.6h.5V200.2h-.5zM237.5 182.7h.5V199.6h-.5zM238 183.4h.5V202.5h-.5zM238.5 182.5h.5V203.2h-.5zM239 182.9h.5V201.1h-.5zM239.5 185.6h.5V200.7h-.5zM240 183.4h.5V202.7h-.5zM240.5 184.1h.5V190.1h-.5zM240.5 194.8h.5V202.9h-.5zM241.5 183.7h.5V202.7h-.5zM242.5 182.7h.5V203.8h-.5zM243 181.7h.5V203.7h-.5zM243.5 182.7h.5V193h-.5zM243.5 194.9h.5V204.2h-.5zM244 183.1h.5V190.1h-.5zM244 195.7h.5V203.2h-.5zM244.5 182.5h.5V188h-.5zM244.5 192.7h.5V202.9h-.5zM245 181.7h.5V203.1h-.5zM245.5 184.1h.5V202.5h-.5zM246 182.4h.5V204.6h-.5zM246.5 184.3h.5V202.5h-.5zM247 182.5h.5V204.3h-.5zM247.5 184h.5V201.3h-.5zM248 183.3h.5V203h-.5zM248.5 182.3h.5V204.3h-.5zM249 182h.5V204.1h-.5zM249.5 182.4h.5V203.8h-.5zM250 183.1h.5V202.4h-.5zM250.5 182.8h.5V193.6h-.5zM250.5 198h.5V201.4h-.5zM251 182.3h.5V201.2h-.5zM251.5 184.1h.5V203.2h-.5zM252.5 186.4h.5V204.6h-.5zM253 185.6h.5V202.2h-.5zM253.5 183.5h.5V204.8h-.5zM254.5 185.1h.5V203.5h-.5zM255 185.6h.5V198.4h-.5zM255 200.7h.5V203.8h-.5zM255.5 186.9h.5V193.7h-.5zM255.5 196h.5V206.2h-.5zM256 187.3h.5V201.1h-.5zM256 205.1h.5V205.5h-.5zM256.5 189.3h.5V204.5h-.5z" fill="#17becf" fill-opacity="1.0"/>
<path d="M209.7 147.5h0M208.8 168.7h0M209.5 147.1h0M209.8 168.4h0M210.4 145.9h0M211.2 169.6h0M210.8 170h0M211.2 146.1h0M212.1 170.5h0M213.1 146.5h0M212.5 170.3h0M213.5 147.1h0M213.8 146.8h0M214.6 148.1h0M214.8 169.6h0M215.4 149.2h0M214.9 168.9h0M216.3 148.2h0M216.2 148.7h0M216.4 147h0M216.9 169.6h0M217.1 144.4h0M218.3 168.5h0M217.8 145.6h0M218.2 147h0M218.8 171.9h0M219.6 146.8h0M219 173.1h0M220.1 144.6h0M220.2 147.2h0M219.7 172.9h0M220.3 149.3h0M221.2 148.9h0M221 175.6h0M221.2 178.1h0M222.8 152.7h0M222.3 182h0M222.9 180.1h0M223.5 158.8h0M223.7 182.1h0M224.6 159h0M223.8 183.7h0M224.4 157.9h0M224.8 162.6h0M225.7 186.1h0M225.8 164.2h0M226 188.6h0M226.7 164.8h0M226.7 187.6h0M226.5 166h0M227.2 189.1h0M227.8 167.6h0M228.3 190.1h0M228 190.1h0M228.5 190.6h0M229.1 168.3h0M228.8 193.3h0M229.9 170.6h0M229.7 192h0M230.6 170.9h0M230.7 194.3h0M231 193.1h0M230.9 172.8h0M231.2 173.1h0M232 194.8h0M232.5 172.5h0M232.4 195.1h0M233.2 173.1h0M232.9 196.9h0M232.8 174.6h0M233.8 174.9h0M234.4 176h0M233.9 199.4h0M235.1 176.5h0M235.6 178.1h0M235.2 201.7h0M236.3 177h0M237.2 180.9h0M237.3 180.3h0M237.1 202.8h0M238.2 181.5h0M237.9 203.4h0M239 181.8h0M239.3 204.1h0M239.3 204.1h0M239.9 182.1h0M239.5 207.3h0M240.1 181.6h0M239.7 203.2h0M240.9 203.8h0M240.9 204.3h0M241.8 203.7h0M242.7 204.5h0M243.4 181.8h0M243.5 204.5h0M243.9 205h0M243.8 181.6h0M244.6 208.6h0M244.8 181.4h0M245 204.3h0M245.2 181.6h0M245.5 206.8h0M245.4 182.1h0M245.5 204.2h0M245.7 204.7h0M246.3 182.3h0M246.6 204.6h0M247.6 182.6h0M247.8 204.2h0M247.6 181.8h0M247.5 204.4h0M247.8 181.8h0M248.2 205h0M249.2 181h0M248.7 204.7h0M248.8 204.3h0M249.6 180.6h0M249.8 181.7h0M250.7 203.9h0M251.2 182.5h0M251 203.9h0M250.8 181.9h0M252.2 204.4h0M252.3 182.7h0M251.8 203.9h0M252.2 182.9h0M252.8 206.9h0M253.7 182.7h0M252.8 206.6h0M253.4 181.1h0M254.1 205.4h0M254.5 205.1h0M254.9 205.5h0M255 184.5h0M255.5 208.4h0M255.2 182.5h0M255.9 185.9h0M256.1 207h0M256.5 186.9h0M256.7 207.4h0" stroke="#17becf" stroke-width="0.8" stroke-linecap="round" stroke-opacity="0.55" fill="none"/>
<path d="M256.6 204V211.4" stroke="#17becf" stroke-width="0.9" stroke-opacity="0.30"/>
<path d="M256.6 204.9V210.1" stroke="#17becf" stroke-width="0.9" stroke-opacity="0.60"/>
<path d="M261 190V206" stroke="#17becf" stroke-width="1.1" stroke-opacity="0.38" stroke-dasharray="2.2 0.5"/>
<path d="M261 191.9V203.1" stroke="#17becf" stroke-width="1.1" stroke-opacity="0.75" stroke-dasharray="2.2 0.5"/>
<path d="M264.6 190.6V202.6" stroke="#17becf" stroke-width="1.1" stroke-opacity="0.38" stroke-dasharray="2.2 0.5"/>
<path d="M264.6 192V200.4" stroke="#17becf" stroke-width="1.1" stroke-opacity="0.75" stroke-dasharray="2.2 0.5"/>
<path d="M265.8 190V202.6" stroke="#17becf" stroke-width="1.1" stroke-opacity="0.38" stroke-dasharray="2.2 0.5"/>
<path d="M265.8 191.5V200.3" stroke="#17becf" stroke-width="1.1" stroke-opacity="0.75" stroke-dasharray="2.2 0.5"/>
<path d="M267.4 192.6V200.6" stroke="#17becf" stroke-width="1.1" stroke-opacity="0.38" stroke-dasharray="2.2 0.5"/>
<path d="M267.4 193.6V199.2" stroke="#17becf" stroke-width="1.1" stroke-opacity="0.75" stroke-dasharray="2.2 0.5"/>
<path d="M269.6 188V204" stroke="#17becf" stroke-width="1.1" stroke-opacity="0.38" stroke-dasharray="2.2 0.5"/>
<path d="M269.6 189.9V201.1" stroke="#17becf" stroke-width="1.1" stroke-opacity="0.75" stroke-dasharray="2.2 0.5"/>
<path d="M270.8 188.6V204.6" stroke="#17becf" stroke-width="1.1" stroke-opacity="0.38" stroke-dasharray="2.2 0.5"/>
<path d="M270.8 190.5V201.7" stroke="#17becf" stroke-width="1.1" stroke-opacity="0.75" stroke-dasharray="2.2 0.5"/>
<path d="M271.8 192V203.4" stroke="#17becf" stroke-width="1.1" stroke-opacity="0.38" stroke-dasharray="2.2 0.5"/>
<path d="M271.8 193.4V201.3" stroke="#17becf" stroke-width="1.1" stroke-opacity="0.75" stroke-dasharray="2.2 0.5"/>
<path d="M209.4 213.3V133.9M235.4 213.3V133.9M261.4 213.3V133.9M189.2 146.2H275M189.2 179.2H275M189.2 212.2H275" stroke="#adadad" stroke-width="0.9" stroke-dasharray="3.07 1.33" fill="none"/>
<path d="M189.2 179.2H275" stroke="#f00" stroke-width="1.8" stroke-dasharray="5.9 2.56" fill="none"/>
<path d="M189.2 133.9V213.3H275" stroke="#2a2a2a" stroke-width="1.15" fill="none"/>
<path d="M209.4 213.3v3.9M235.4 213.3v3.9M261.4 213.3v3.9M189.2 146.2h-3.9M189.2 179.2h-3.9M189.2 212.2h-3.9" stroke="#000" stroke-width="0.95" fill="none"/>
<text x="209.4" y="229.9" text-anchor="middle">−2.5</text>
<text x="235.4" y="229.9" text-anchor="middle">0.0</text>
<text x="261.4" y="229.9" text-anchor="middle">2.5</text>
<text x="181.3" y="150.5" text-anchor="end">25</text>
<text x="181.3" y="183.5" text-anchor="end">0</text>
<text x="181.3" y="216.5" text-anchor="end">−25</text>
<text x="232.1" y="245.8" text-anchor="middle" font-size="11.05">STUBEHA</text>
</g>
<g>
<path d="M328.4 174V213.4" stroke="#17becf" stroke-width="1.3" stroke-opacity="1.00"/>
<path d="M406.6 138.6V174" stroke="#17becf" stroke-width="1.3" stroke-opacity="1.00"/>
<path d="M328.4 213.3V133.9M406.6 213.3V133.9M324.6 146.6H410.4M324.6 174H410.4M324.6 201H410.4" stroke="#adadad" stroke-width="0.9" stroke-dasharray="3.07 1.33" fill="none"/>
<path d="M324.6 174H410.4" stroke="#f00" stroke-width="1.8" stroke-dasharray="5.9 2.56" fill="none"/>
<path d="M324.6 133.9V213.3H410.4" stroke="#2a2a2a" stroke-width="1.15" fill="none"/>
<path d="M328.4 213.3v3.9M406.6 213.3v3.9M324.6 146.6h-3.9M324.6 174h-3.9M324.6 201h-3.9" stroke="#000" stroke-width="0.95" fill="none"/>
<text x="328.4" y="229.9" text-anchor="middle">1</text>
<text x="406.6" y="229.9" text-anchor="middle">2</text>
<text x="316.7" y="150.9" text-anchor="end">10</text>
<text x="316.7" y="178.3" text-anchor="end">0</text>
<text x="316.7" y="205.3" text-anchor="end">−10</text>
<text x="367.5" y="245.8" text-anchor="middle" font-size="11.05">ST004D01T</text>
</g>
<g>
<path d="M462.5 142.7h.5V167.9h-.5zM463 141.7h.5V168.7h-.5zM463.5 141.4h.5V169.1h-.5zM464 140.1h.5V168.7h-.5zM464.5 140.7h.5V167.9h-.5zM465 139.8h.5V168h-.5zM465.5 141.5h.5V168.4h-.5zM466 141.6h.5V166.5h-.5zM466.5 142.9h.5V165.7h-.5z" fill="#17becf" fill-opacity="1.0"/>
<path d="M462.2 168.9h0M463.4 140.1h0M463.8 169.5h0M464 139.5h0M466.3 168.3h0M466.6 166.7h0" stroke="#17becf" stroke-width="0.8" stroke-linecap="round" stroke-opacity="0.55" fill="none"/>
<path d="M474 144.8h.5V163h-.5zM474.5 145.1h.5V163.3h-.5zM475 143.6h.5V163.4h-.5zM475.5 143.4h.5V164h-.5zM476 143.4h.5V163.7h-.5zM476.5 144h.5V163.6h-.5zM477 144.5h.5V162.6h-.5zM477.5 146.8h.5V161.7h-.5z" fill="#17becf" fill-opacity="1.0"/>
<path d="M475.3 164.4h0M475.7 143.4h0M475.6 165.5h0M476.3 143.6h0M476.5 143.7h0M476.8 144.3h0" stroke="#17becf" stroke-width="0.8" stroke-linecap="round" stroke-opacity="0.55" fill="none"/>
<path d="M479.5 144.7h.5V166.4h-.5zM480 144h.5V166.4h-.5zM481 143.3h.5V166.3h-.5zM481.5 143h.5V166.2h-.5zM482 143.8h.5V167.4h-.5zM483 144.2h.5V166.5h-.5zM483.5 144.6h.5V166.3h-.5z" fill="#17becf" fill-opacity="1.0"/>
<path d="M480.1 144.1h0M480.1 167.3h0M480.4 142.3h0M480.8 167.8h0M481.3 141.3h0M481.9 142.5h0M482.5 142h0M481.8 168h0M483.8 142.4h0M483 166.8h0M483.9 144.4h0" stroke="#17becf" stroke-width="0.8" stroke-linecap="round" stroke-opacity="0.55" fill="none"/>
<path d="M485.5 146.1h.5V164.7h-.5zM486 144.8h.5V166.3h-.5zM486.5 146h.5V166.2h-.5zM487 146.3h.5V166.5h-.5zM487.5 145.8h.5V166.6h-.5zM488 148.8h.5V167.6h-.5zM489.5 149.1h.5V167.7h-.5zM490 150.1h.5V168.2h-.5zM490.5 149.2h.5V167.1h-.5zM491 150h.5V168.5h-.5zM491.5 149.8h.5V168.1h-.5zM492.5 152.5h.5V168.8h-.5zM493 152.1h.5V169.6h-.5zM493.5 153h.5V169.2h-.5zM494 153.9h.5V168.6h-.5zM494.5 153.2h.5V170h-.5zM495.5 155h.5V170.7h-.5zM496 156.4h.5V169.9h-.5zM496.5 156.3h.5V168.8h-.5zM497 156.4h.5V169.9h-.5zM497.5 156.4h.5V171.2h-.5zM498 157h.5V170.8h-.5zM499 157.4h.5V170.9h-.5zM499.5 157.7h.5V171.7h-.5zM500 158.1h.5V169.6h-.5zM500.5 158.1h.5V171.9h-.5zM501 159.5h.5V170.1h-.5zM501.5 159.9h.5V172.9h-.5zM502.5 163.7h.5V170.8h-.5zM503 162.9h.5V173.6h-.5zM503.5 165.9h.5V172.3h-.5zM504 165.7h.5V172.5h-.5zM504.5 166.3h.5V176.6h-.5zM505 167.6h.5V176.5h-.5zM506 169.2h.5V179.6h-.5zM506.5 170.6h.5V181.9h-.5zM507 170.3h.5V183.1h-.5zM507.5 170.8h.5V183.1h-.5zM508 171.5h.5V186h-.5zM508.5 173.3h.5V185.7h-.5zM509.5 173.4h.5V190.2h-.5zM510.5 173.6h.5V193.7h-.5zM511 173.6h.5V194.6h-.5zM511.5 173.1h.5V195.1h-.5zM512.5 173.6h.5V195.5h-.5zM513 174.4h.5V196.5h-.5zM513.5 173.7h.5V195.9h-.5zM514 173.2h.5V197h-.5zM514.5 172.5h.5V197.4h-.5zM515 173h.5V197.1h-.5zM516 174.6h.5V196.9h-.5zM516.5 173.4h.5V196.1h-.5zM517 174.9h.5V197.5h-.5zM517.5 173.6h.5V197.2h-.5zM518 174.1h.5V197.6h-.5zM518.5 173.7h.5V197.4h-.5zM519.5 172.8h.5V196.7h-.5zM520 173.3h.5V196.9h-.5zM520.5 173h.5V194.7h-.5zM521 174.1h.5V196.2h-.5zM521.5 172.5h.5V197.1h-.5zM522 172.5h.5V197.2h-.5zM523 174.3h.5V195.7h-.5zM523.5 174.2h.5V196.3h-.5zM524 173h.5V194.1h-.5zM524.5 173.9h.5V194.2h-.5zM525 175.8h.5V194.1h-.5zM525.5 174.9h.5V194.2h-.5z" fill="#17becf" fill-opacity="1.0"/>
<path d="M485.1 143.9h0M485.7 167.4h0M486 141.5h0M486.1 167.2h0M486.3 144.8h0M486.3 144.6h0M487.4 145.1h0M487.2 167.4h0M487.4 145.9h0M487.3 168h0M487.9 145.6h0M487.7 167.9h0M488.6 147.1h0M489.2 168.2h0M488.8 146.9h0M489.3 168.1h0M489.2 146.6h0M489.4 168.6h0M490.1 169.6h0M490.3 148.9h0M490.9 168.5h0M492 149.7h0M491.8 169.6h0M492.3 168.9h0M492.8 169.9h0M493.4 151.7h0M493.2 169.7h0M493.7 147.8h0M494.2 171.6h0M494.3 172h0M495.2 170.2h0M495.3 153.9h0M494.9 170.4h0M495.9 152.5h0M496.2 153.8h0M496.3 170.7h0M497 155.2h0M497.3 171.6h0M497.3 155.6h0M497 171.1h0M497.5 155.8h0M497.7 172.2h0M498.3 156.3h0M498.5 171.4h0M499.2 174h0M500.1 172.3h0M500.5 157.7h0M500.6 172.9h0M500.8 158h0M500.9 180.2h0M501.5 157.4h0M501.5 176h0M502.2 173.3h0M501.9 160.6h0M503 173.9h0M503.7 162.4h0M503.6 174.2h0M504.1 164.1h0M504.2 175h0M504.8 162.6h0M505 178.1h0M506.3 167h0M506.4 167.9h0M506.3 181h0M506.8 168.7h0M507.6 185.1h0M507.5 186.1h0M508.3 170.7h0M508 186.6h0M509.2 170.6h0M508.6 187.7h0M509.8 171.7h0M508.8 190.1h0M509.4 172.1h0M510.2 192.5h0M510.7 172.3h0M510 193h0M510.5 172.5h0M511.1 194.2h0M511.3 171.5h0M511.3 197.2h0M511.4 172.8h0M512 169.8h0M512 197.5h0M512.2 171.8h0M512.3 197.9h0M513.3 172.5h0M512.8 197.4h0M513.2 172.3h0M513.9 172.8h0M514.2 200.2h0M515.1 171.6h0M516.1 169.3h0M515.4 199.1h0M515.8 172.3h0M516.4 197.4h0M516.8 198.2h0M517.2 172.9h0M517.7 171.8h0M518.3 199.4h0M519.3 172.1h0M518.4 197.7h0M519.1 172.5h0M519.2 197.5h0M519.4 198.5h0M520.3 198.5h0M520.9 172.4h0M520.8 197.7h0M521.6 198.4h0M521.5 201.2h0M522 172.6h0M522.3 196.9h0M522.2 171.8h0M522.6 197.9h0M522.7 172.5h0M523.3 196.5h0M523.3 172.6h0M524.5 172.7h0M524.8 196.8h0M525.6 197.2h0M526.1 172h0M525.7 195.3h0" stroke="#17becf" stroke-width="0.8" stroke-linecap="round" stroke-opacity="0.55" fill="none"/>
<path d="M528 175.2h.5V193.1h-.5zM528.5 174.3h.5V194.3h-.5zM529 174.7h.5V195h-.5zM529.5 174.4h.5V195h-.5zM530 174.9h.5V195.4h-.5zM530.5 174.3h.5V195.5h-.5zM531 175.3h.5V194h-.5zM531.5 176.2h.5V193.8h-.5z" fill="#17becf" fill-opacity="1.0"/>
<path d="M528 195.5h0M528.9 172.7h0M528.3 194.9h0M530.7 173.1h0M530.1 196.3h0M530.5 172.4h0M531.2 196.1h0M531.6 174.3h0M532.2 175.1h0M531.3 193.6h0" stroke="#17becf" stroke-width="0.8" stroke-linecap="round" stroke-opacity="0.55" fill="none"/>
<path d="M539 177.4h.5V197.1h-.5zM539.5 174.2h.5V199.2h-.5zM540 175.4h.5V202.3h-.5zM540.5 174.9h.5V202.8h-.5zM541 173.5h.5V203.7h-.5zM541.5 173.4h.5V203.1h-.5zM542 175.8h.5V203.5h-.5zM542.5 176.5h.5V198.8h-.5z" fill="#17becf" fill-opacity="1.0"/>
<path d="M539.3 174.2h0M539.8 198h0M539.6 197.8h0M539.4 172.3h0M540.3 207.5h0M539.2 204.7h0M540.8 171.5h0M540.1 205.8h0M540.4 202.1h0M540.8 204.6h0M540.7 208.4h0M541.6 173.3h0M541.6 208.8h0M540.8 208.5h0M541.6 212.7h0M541.9 207.2h0M542.4 205.4h0M541.9 203.3h0M542.8 205.5h0M542.5 203h0" stroke="#17becf" stroke-width="0.8" stroke-linecap="round" stroke-opacity="0.55" fill="none"/>
<path d="M541.5 206.5h0M542.1 208.9h0M541.1 210.6h0M512 198.3h0M518.6 199.1h0M536.6 179.5h0M539 187.6h0" stroke="#17becf" stroke-width="0.9" stroke-linecap="round" stroke-opacity="0.4" fill="none"/>
<path d="M462.4 213.3V133.9M501 213.3V133.9M539.6 213.3V133.9M460.2 138.2H546M460.2 170.6H546M460.2 202.6H546" stroke="#adadad" stroke-width="0.9" stroke-dasharray="3.07 1.33" fill="none"/>
<path d="M460.2 170.6H546" stroke="#f00" stroke-width="1.8" stroke-dasharray="5.9 2.56" fill="none"/>
<path d="M460.2 133.9V213.3H546" stroke="#2a2a2a" stroke-width="1.15" fill="none"/>
<path d="M462.4 213.3v3.9M501 213.3v3.9M539.6 213.3v3.9M460.2 138.2h-3.9M460.2 170.6h-3.9M460.2 202.6h-3.9" stroke="#000" stroke-width="0.95" fill="none"/>
<text x="462.4" y="229.9" text-anchor="middle">−2.5</text>
<text x="501" y="229.9" text-anchor="middle">0.0</text>
<text x="539.6" y="229.9" text-anchor="middle">2.5</text>
<text x="452.3" y="142.5" text-anchor="end">20</text>
<text x="452.3" y="174.9" text-anchor="end">0</text>
<text x="452.3" y="206.9" text-anchor="end">−20</text>
<text x="503.1" y="245.8" text-anchor="middle" font-size="11.05">ANXMAT</text>
</g>
<g>
<path d="M56.5 302.9h.5V318.1h-.5zM57 302.1h.5V322.2h-.5zM57.5 300.7h.5V323.7h-.5zM58 301.2h.5V322.6h-.5zM58.5 303.9h.5V321.4h-.5z" fill="#17becf" fill-opacity="1.0"/>
<path d="M56.4 300.4h0M56.6 322.2h0M56.6 327h0M56.7 325.3h0M57.7 323.1h0M57.6 299.4h0M57.7 338.1h0M58.4 299.5h0M58.3 326.2h0M59.2 323.6h0M58.8 321.8h0" stroke="#17becf" stroke-width="0.8" stroke-linecap="round" stroke-opacity="0.55" fill="none"/>
<path d="M64.5 304.5h.5V314.8h-.5zM65 303.1h.5V315.9h-.5zM66 304.9h.5V315.4h-.5zM66.5 304.3h.5V317h-.5zM67 302.1h.5V318.5h-.5z" fill="#17becf" fill-opacity="0.7"/>
<path d="M65.4 317.5h0M65.9 302.6h0M66.3 318h0M67.2 318.8h0M67.8 301.5h0M67.6 301.5h0M67.5 319h0" stroke="#17becf" stroke-width="0.8" stroke-linecap="round" stroke-opacity="0.55" fill="none"/>
<path d="M68 302h.5V318.4h-.5zM68.5 304.4h.5V319.4h-.5zM69 303.6h.5V311.6h-.5zM69 314.6h.5V318.1h-.5zM69.5 303.7h.5V317.6h-.5zM70 300.7h.5V317.6h-.5zM70.5 300.7h.5V319.2h-.5zM71 301.9h.5V319.2h-.5zM71.5 299.7h.5V319.1h-.5zM72 299.1h.5V318.9h-.5zM72.5 301h.5V319.3h-.5zM73 300.7h.5V310h-.5zM73 315h.5V319.6h-.5zM73.5 299.3h.5V318.9h-.5zM74 298.6h.5V318.3h-.5zM74.5 298.5h.5V319.7h-.5zM75 299.7h.5V317.9h-.5zM75.5 298.4h.5V319.1h-.5zM76 299.7h.5V318.3h-.5zM76.5 298.9h.5V319h-.5zM77 298.6h.5V319.5h-.5zM77.5 298.7h.5V318.4h-.5zM78 298.8h.5V319.9h-.5zM78.5 300h.5V318.4h-.5zM79 299.2h.5V319.4h-.5zM79.5 298.6h.5V317.4h-.5zM80 299.1h.5V302.3h-.5zM80 305.9h.5V316.6h-.5zM80.5 297.9h.5V322.6h-.5zM81 297.4h.5V320.1h-.5zM81.5 298.9h.5V318.9h-.5zM82 297h.5V316h-.5zM82.5 299.3h.5V315.5h-.5zM83 296.8h.5V317h-.5zM83.5 299.5h.5V306.7h-.5zM83.5 311.1h.5V316h-.5zM84 296.4h.5V311.2h-.5zM84 314.4h.5V315.9h-.5zM84.5 296.8h.5V314.1h-.5zM85 296.4h.5V313.6h-.5zM85.5 296.5h.5V314.1h-.5zM86 296.5h.5V311h-.5zM86.5 296.6h.5V311.2h-.5zM87 297.4h.5V307.9h-.5zM87.5 294.5h.5V310.8h-.5zM88 293.7h.5V308.6h-.5zM88.5 293.6h.5V308.9h-.5zM89 293h.5V306.8h-.5zM89.5 291.8h.5V304.2h-.5zM90 290.1h.5V304.6h-.5zM90.5 289.9h.5V302.5h-.5zM91 287.1h.5V302.8h-.5zM91.5 286.2h.5V290.4h-.5zM91.5 293.4h.5V301.7h-.5zM92 285.7h.5V299.3h-.5zM92.5 283.3h.5V298.8h-.5zM93 282.5h.5V297.4h-.5zM93.5 282.6h.5V297.2h-.5zM94 284.4h.5V289.3h-.5zM94 292.3h.5V296.5h-.5zM94.5 283.1h.5V292.2h-.5zM95 282.9h.5V290.1h-.5zM95.5 281.3h.5V291.8h-.5zM96 279.9h.5V296h-.5zM96.5 281h.5V292.1h-.5zM97 279.4h.5V293.6h-.5zM97.5 281.2h.5V293.9h-.5zM98 279.3h.5V295.5h-.5zM98.5 279h.5V295.2h-.5zM99 282h.5V291.3h-.5zM99 293.1h.5V295.1h-.5zM99.5 279.2h.5V294.4h-.5zM100 280.1h.5V294.3h-.5zM100.5 278.6h.5V294.9h-.5zM101 278.7h.5V293.5h-.5zM101.5 277.8h.5V292.9h-.5zM102 278.3h.5V292.4h-.5zM102.5 279h.5V292.7h-.5zM103 278.8h.5V293.1h-.5zM103.5 276.3h.5V292.4h-.5zM104 275.8h.5V294.6h-.5zM104.5 276.4h.5V283.1h-.5zM104.5 286.7h.5V292.7h-.5zM105 276h.5V294.2h-.5zM105.5 277.3h.5V282.3h-.5zM105.5 286h.5V292.8h-.5zM106 274.6h.5V293.6h-.5zM106.5 274.9h.5V293.8h-.5zM107 276.5h.5V292.1h-.5zM107.5 273.4h.5V292.5h-.5zM108 275.8h.5V278.1h-.5zM108 281.4h.5V290.3h-.5zM108.5 276.3h.5V285.1h-.5zM108.5 286.4h.5V292.3h-.5zM109 274.7h.5V286h-.5zM109 288h.5V293.2h-.5zM109.5 273.4h.5V293.3h-.5zM110 272.9h.5V290.3h-.5zM110.5 272.7h.5V292.6h-.5zM111 274.9h.5V291.1h-.5zM111.5 274.6h.5V291h-.5zM112 273.4h.5V291.8h-.5zM112.5 276.3h.5V290.4h-.5zM113 274.6h.5V292.8h-.5zM113.5 273.4h.5V292.7h-.5zM114 272.5h.5V287.7h-.5zM114.5 273.6h.5V292.3h-.5zM115 274.9h.5V292.1h-.5zM115.5 273.9h.5V290.5h-.5zM116 273.8h.5V291h-.5zM116.5 273.4h.5V291.8h-.5zM117 275.3h.5V291.4h-.5zM117.5 274h.5V291.8h-.5zM118 273.6h.5V277.8h-.5zM118 282.6h.5V291.5h-.5zM118.5 275.8h.5V284.1h-.5zM118.5 286.2h.5V290.8h-.5zM119 276.1h.5V291.4h-.5zM119.5 276.2h.5V289.8h-.5zM120 274.4h.5V290.8h-.5zM120.5 275.3h.5V287.6h-.5zM121 276.1h.5V289.7h-.5zM121.5 277.4h.5V288.5h-.5z" fill="#17becf" fill-opacity="1.0"/>
<path d="M68.4 300.3h0M68.5 320.7h0M68.7 299.8h0M68.9 319.4h0M69.1 319.2h0M69.8 299h0M69.7 296.6h0M69.8 319.7h0M71.1 299.6h0M70.5 320h0M70.7 298.2h0M71.4 320.6h0M71.7 296.9h0M71.8 298.3h0M72.6 320.1h0M73.2 295.2h0M72.3 320.5h0M73.5 297.9h0M73.3 331h0M73.4 298.4h0M73.7 320.4h0M74.8 296.7h0M74 321.5h0M75.2 299h0M75.2 322.3h0M74.9 297.8h0M75.1 319.9h0M75.5 298.7h0M75.9 320.1h0M75.9 319.7h0M76.7 298.2h0M76.3 320h0M76.9 322.1h0M77.6 294.6h0M77.2 320.2h0M78 298.1h0M78.8 321.2h0M78.7 297.4h0M78.3 321.7h0M79.3 297.1h0M79.1 320.2h0M79.4 297.3h0M79.3 320h0M79.8 294.9h0M80.8 320.7h0M80.3 297.9h0M81 323.1h0M81.7 297.8h0M80.7 322h0M82.2 297.7h0M81.3 318.7h0M81.8 294.5h0M81.7 317.9h0M82.5 297.1h0M82.5 317.8h0M83 295.9h0M82.9 317.2h0M83.7 295.6h0M83.7 317.6h0M83.8 292.7h0M84.1 316.6h0M84.9 296.3h0M84.8 315.6h0M84.9 294.2h0M85.7 323.6h0M85.4 294.2h0M85.3 314.2h0M86.6 313.5h0M86.3 294.5h0M86.8 314.3h0M87.5 313.8h0M88.3 292.8h0M87.3 311.4h0M88.7 293.1h0M87.8 309.5h0M88.4 310.3h0M89.6 291.6h0M88.8 307.9h0M89.2 290h0M89.4 306.7h0M90.6 289.5h0M89.9 307h0M90.7 288.5h0M90.2 304.3h0M90.7 285.3h0M91.5 303.9h0M91.4 285.1h0M92.5 282.9h0M92 306.3h0M92.8 281.6h0M92.7 301h0M92.9 281.7h0M93.3 299.8h0M93.4 281.5h0M94.3 300.5h0M94.3 280.6h0M94.5 297.9h0M95.2 280.8h0M94.8 299h0M95.1 280.7h0M95.7 297.2h0M95.3 279.6h0M95.5 297.7h0M96.8 278.2h0M96.1 296.4h0M96.3 278.9h0M96.9 296.4h0M97.2 275h0M97.1 296.3h0M98.2 277.4h0M98 296.8h0M98.3 277.5h0M98.2 297.6h0M98.5 276.2h0M99.2 274.6h0M99.7 295.6h0M99.8 278.6h0M99.4 295.7h0M99.7 277.2h0M99.8 296.9h0M100.6 276.9h0M100.2 294.9h0M101.3 277.3h0M101.5 299.5h0M101.2 274.9h0M102.3 275.9h0M102.8 296.8h0M102.7 295.4h0M102.7 297.9h0M103.6 275.5h0M103.7 294.3h0M104.3 274.8h0M103.7 294.9h0M104.5 272.2h0M104.9 296.2h0M104.7 275.1h0M105.1 293.9h0M105.4 274.3h0M106.1 295.2h0M106.3 273.5h0M106.4 295h0M106.9 274h0M107.7 273.4h0M107.7 294.1h0M107.3 273.5h0M107.9 294.5h0M108.7 271.6h0M108.4 295.8h0M109.8 273.4h0M109.7 293.8h0M110 273.2h0M110.1 293.6h0M109.8 294.7h0M110.4 271.6h0M110.3 293.5h0M110.7 272.2h0M110.8 293.9h0M111.6 273h0M113.1 270.9h0M112.5 294.4h0M112.8 266.3h0M113.2 271.2h0M114.8 271.5h0M114.3 293.9h0M114.3 272.8h0M115.1 292h0M115.8 269.6h0M115.8 272.5h0M115.9 272.3h0M116 294.9h0M116.5 273.5h0M116.3 292.4h0M116.8 291.6h0M118.1 272.7h0M118.2 293.1h0M118.6 271.7h0M117.8 291.7h0M119 273.8h0M118.8 293.1h0M119.4 265.5h0M119.7 295.7h0M120.2 270.7h0M120 291.7h0M120 271h0M120.5 293.1h0M120.4 275.1h0M121.2 290.9h0M121.8 275.8h0M121.3 292.7h0M122.2 275.6h0M121.9 291h0" stroke="#17becf" stroke-width="0.8" stroke-linecap="round" stroke-opacity="0.55" fill="none"/>
<path d="M125 275.6h.5V289.4h-.5zM125.5 275.1h.5V291.1h-.5zM126 278.1h.5V288.7h-.5z" fill="#17becf" fill-opacity="1.0"/>
<path d="M124.8 275.4h0M125.6 290.6h0M125.6 291.7h0M126.4 290.7h0" stroke="#17becf" stroke-width="0.8" stroke-linecap="round" stroke-opacity="0.55" fill="none"/>
<path d="M132 273.8h.5V292.7h-.5zM132.5 273.2h.5V293.9h-.5zM133 274.6h.5V293.2h-.5z" fill="#17becf" fill-opacity="1.0"/>
<path d="M132.6 293.8h0M133 271.8h0M132.7 272.8h0M133.1 295.2h0" stroke="#17becf" stroke-width="0.8" stroke-linecap="round" stroke-opacity="0.55" fill="none"/>
<path d="M134.5 277.5h.5V296.7h-.5zM135 275.9h.5V299.6h-.5zM135.5 276.5h.5V300h-.5z" fill="#17becf" fill-opacity="1.0"/>
<path d="M134.8 277h0M135.5 301.4h0M135.8 300.6h0" stroke="#17becf" stroke-width="0.8" stroke-linecap="round" stroke-opacity="0.55" fill="none"/>
<path d="M57.8 328.2h0M58.3 330.8h0M72.5 326.5h0M74.2 326h0M101.8 297.1h0M89.7 311.8h0M107 266.9h0M115.6 269.5h0M135.5 291.1h0" stroke="#17becf" stroke-width="0.9" stroke-linecap="round" stroke-opacity="0.4" fill="none"/>
<path d="M59 341.3V261.9M93.6 341.3V261.9M128.4 341.3V261.9M54 267H139.8M54 295.2H139.8M54 323.4H139.8" stroke="#adadad" stroke-width="0.9" stroke-dasharray="3.07 1.33" fill="none"/>
<path d="M54 295.2H139.8" stroke="#f00" stroke-width="1.8" stroke-dasharray="5.9 2.56" fill="none"/>
<path d="M54 261.9V341.3H139.8" stroke="#2a2a2a" stroke-width="1.15" fill="none"/>
<path d="M59 341.3v3.9M93.6 341.3v3.9M128.4 341.3v3.9M54 267h-3.9M54 295.2h-3.9M54 323.4h-3.9" stroke="#000" stroke-width="0.95" fill="none"/>
<text x="59" y="357.9" text-anchor="middle">−2.5</text>
<text x="93.6" y="357.9" text-anchor="middle">0.0</text>
<text x="128.4" y="357.9" text-anchor="middle">2.5</text>
<text x="46.1" y="271.3" text-anchor="end">20</text>
<text x="46.1" y="299.5" text-anchor="end">0</text>
<text x="46.1" y="327.7" text-anchor="end">−20</text>
<text x="96.9" y="373.8" text-anchor="middle" font-size="11.05">ICTOUT</text>
</g>
<g>
<path d="M192 271.3h.5V291.5h-.5zM192.5 268.4h.5V292.7h-.5zM193 270.7h.5V290.8h-.5z" fill="#17becf" fill-opacity="1.0"/>
<path d="M192.4 269.5h0M192.4 292.3h0M193.1 293.3h0M192.7 291.7h0" stroke="#17becf" stroke-width="0.8" stroke-linecap="round" stroke-opacity="0.55" fill="none"/>
<path d="M202 277h.5V288.3h-.5zM202.5 276.1h.5V289.1h-.5z" fill="#17becf" fill-opacity="1.0"/>
<path d="M202.2 290.5h0" stroke="#17becf" stroke-width="0.8" stroke-linecap="round" stroke-opacity="0.55" fill="none"/>
<path d="M205 275.9h.5V289.6h-.5zM205.5 275.4h.5V286.5h-.5zM206 275.1h.5V289.5h-.5zM206.5 275.7h.5V290.2h-.5zM207 278.4h.5V290.3h-.5zM207.5 275.2h.5V289.7h-.5zM208 276.6h.5V289.6h-.5zM208.5 276.4h.5V290.1h-.5zM209 274.9h.5V288.4h-.5zM209.5 278h.5V289.6h-.5zM210 276.2h.5V289.7h-.5zM210.5 275.5h.5V289.9h-.5zM211 275.4h.5V290.7h-.5zM211.5 275h.5V290.7h-.5zM212 276.3h.5V291h-.5zM212.5 275.4h.5V291.2h-.5zM213 275.3h.5V290.1h-.5zM213.5 275.9h.5V291.4h-.5zM214.5 276.1h.5V292.2h-.5zM215 276.6h.5V291.8h-.5zM215.5 278.6h.5V292.4h-.5zM216 278.9h.5V290.5h-.5zM217 280.2h.5V292.6h-.5zM217.5 279.3h.5V292.2h-.5zM218 280.6h.5V291.1h-.5zM218.5 281.1h.5V292.2h-.5zM219 282.8h.5V292.6h-.5zM219.5 284.2h.5V292.9h-.5zM220 283.8h.5V292.8h-.5zM220.5 283.9h.5V292.1h-.5zM221 286.1h.5V293.5h-.5zM221.5 285.2h.5V293.3h-.5zM222 287.7h.5V294.1h-.5zM222.5 289.2h.5V294.3h-.5zM223 287.1h.5V294.7h-.5zM223.5 290.4h.5V295.3h-.5zM224 288h.5V295h-.5zM224.5 289.3h.5V294.5h-.5zM225 289.5h.5V295.4h-.5z" fill="#17becf" fill-opacity="1.0"/>
<path d="M204.2 277h0M204.9 288.7h0M205.3 289.2h0M206 273.8h0M206.1 289.9h0M206.2 290.1h0M206.3 273.2h0M207 294h0M207.6 275.1h0M207.6 292.1h0M207.3 275h0M207.7 273.3h0M208 292.2h0M208.3 291.1h0M209.8 272.4h0M209.8 290.8h0M209.2 291.7h0M210.3 273.7h0M209.9 292.1h0M211 274.7h0M211.3 270.2h0M211.3 290.8h0M212.1 273.6h0M211.9 290.7h0M212 272.5h0M212.5 291.4h0M213.1 291h0M212.9 274.1h0M213.8 291.9h0M214.3 291.7h0M214.7 275.1h0M214.4 291.8h0M214.7 275.7h0M216.3 275.7h0M215.7 293.3h0M216.7 277.9h0M216.1 294.7h0M216.3 277.1h0M217.6 296.1h0M217.9 279.5h0M218.3 293.2h0M217.9 294.2h0M218.5 279.6h0M218.7 294h0M219.1 281.4h0M219.9 281.4h0M219.2 294.5h0M220.1 294.1h0M221.3 283.4h0M220.5 295.1h0M221.3 294.3h0M222.5 285.2h0M223.3 286.4h0M222.7 287.1h0M223.8 294.9h0M223.8 287.3h0M224 294.9h0M224 287.6h0M223.8 295h0M225 295.4h0M224.9 295.5h0" stroke="#17becf" stroke-width="0.8" stroke-linecap="round" stroke-opacity="0.55" fill="none"/>
<path d="M214.5 293.2h.5V299.8h-.5zM215 295.1h.5V299h-.5zM215.5 294.7h.5V301.3h-.5zM216 293.7h.5V303.6h-.5zM216.5 293.5h.5V301.6h-.5zM217 292.8h.5V303.3h-.5zM217.5 292h.5V302.4h-.5zM218 293.3h.5V302.3h-.5zM218.5 292.1h.5V302.2h-.5zM219.5 291.8h.5V302h-.5zM220 293.2h.5V302.2h-.5zM220.5 291.8h.5V301.4h-.5zM221 292.9h.5V302.6h-.5zM221.5 293.5h.5V303.4h-.5zM223.5 293.1h.5V305.8h-.5zM224 292.8h.5V307.5h-.5zM225 294.7h.5V309.6h-.5zM225.5 295.3h.5V309.7h-.5zM226 294.2h.5V310.2h-.5zM226.5 296.3h.5V310h-.5zM227 294.5h.5V309.8h-.5zM227.5 297.7h.5V310.2h-.5zM228 294.4h.5V310.4h-.5zM228.5 294.9h.5V309.7h-.5zM229 294.8h.5V310h-.5zM229.5 294.8h.5V311.2h-.5zM230.5 296.8h.5V311.8h-.5zM231 296.8h.5V311.1h-.5zM231.5 295.2h.5V311.2h-.5zM232 296.6h.5V311.2h-.5zM232.5 297.7h.5V312.2h-.5zM233 296.7h.5V310.6h-.5zM233.5 296h.5V312.4h-.5zM234 298.3h.5V311.2h-.5zM235 297.3h.5V311.5h-.5zM235.5 298h.5V311.7h-.5zM236 297.9h.5V310.9h-.5zM237 298.7h.5V313h-.5zM237.5 297.6h.5V312.5h-.5zM239 299.1h.5V312.4h-.5zM239.5 297.6h.5V311.6h-.5zM240 298.7h.5V313.3h-.5z" fill="#17becf" fill-opacity="1.0"/>
<path d="M215 291.6h0M215.3 292.5h0M215.3 303.2h0M215.4 289.3h0M216.3 302.8h0M216.3 291.9h0M216.6 303.5h0M216.5 292.2h0M217 307.9h0M216.7 290.8h0M217.3 292.2h0M218.1 303.7h0M217.8 291.8h0M218 306.3h0M219 302.9h0M218.8 291.8h0M220 291.4h0M219.6 302.6h0M220.4 291.8h0M219.8 307.4h0M220.7 291h0M220.9 302.3h0M221.4 290.2h0M221.5 308.9h0M222 291.7h0M222 303.7h0M221.7 292.4h0M221.8 307h0M223 290.5h0M222.5 305h0M222.8 292.5h0M223.4 306.1h0M223.9 291.7h0M223.3 308.5h0M224.1 291.2h0M223.8 309.6h0M224.4 289.8h0M225.1 308.9h0M224.7 291.8h0M225.6 309.9h0M225.5 293.1h0M226.2 311.4h0M226.5 311.6h0M226.5 292.3h0M227.1 313.3h0M226.9 292.9h0M227.7 310.7h0M227.4 311.4h0M228.4 292.6h0M227.9 311.7h0M228.5 294h0M228.4 310.9h0M228.9 291.3h0M229.2 294.3h0M229.8 311.9h0M230.7 292.8h0M229.8 312.8h0M230.5 312.7h0M231.6 293.8h0M231.7 312.7h0M231.9 294.7h0M232.4 295.2h0M232.5 313.5h0M233 295.6h0M233 312.6h0M233.5 295.4h0M233.6 312h0M234.8 292.9h0M234.3 312.4h0M235.7 295.8h0M235.9 296.3h0M235.9 313.5h0M236.8 293.5h0M237 293.5h0M236.7 313.8h0M236.9 295.7h0M237.8 313.4h0M238.3 292.8h0M238.2 315.3h0M238.8 314.2h0M239.3 296.2h0M238.4 314.4h0M239.2 295.8h0M239.7 314.8h0M239.3 296h0M239.9 315.1h0M240.7 297h0" stroke="#17becf" stroke-width="0.8" stroke-linecap="round" stroke-opacity="0.55" fill="none"/>
<path d="M240 297.6h.5V312.8h-.5zM241 302.3h.5V316.8h-.5zM241.5 298.4h.5V316h-.5zM242 297.6h.5V316.8h-.5zM243 298.4h.5V312.7h-.5zM243.5 298.2h.5V314.9h-.5zM244 298.8h.5V315.6h-.5zM245.5 300.3h.5V315.2h-.5zM246 300.6h.5V312.8h-.5zM246.5 299.8h.5V314.7h-.5zM247.5 300.4h.5V315.4h-.5zM248 300.5h.5V314.7h-.5zM248.5 300.7h.5V313.3h-.5zM249.5 299.4h.5V314.9h-.5zM250 301.6h.5V314.2h-.5zM250.5 301.9h.5V313.1h-.5zM251 303.4h.5V312.3h-.5zM252 299.3h.5V314h-.5zM252.5 301h.5V315.6h-.5zM253 300.9h.5V315h-.5zM254 301h.5V314.4h-.5zM254.5 301.1h.5V315.4h-.5zM255 301.1h.5V313.8h-.5z" fill="#17becf" fill-opacity="1.0"/>
<path d="M240.6 296.6h0M240.8 316h0M241.3 318.5h0M241.8 297.9h0M242.8 317.4h0M242.9 297.9h0M242.8 315.6h0M243.4 316h0M243.3 296.8h0M243.3 315.5h0M245.1 298.5h0M245.2 315.8h0M244.9 298.3h0M244.7 317.8h0M246.3 298.9h0M245.9 315.6h0M246.6 297.6h0M245.8 317.7h0M247.1 299h0M247 296.5h0M247.7 316.1h0M247.6 315.2h0M248.7 295h0M248.5 316.7h0M249.3 299.2h0M249.2 316.4h0M249.3 298.2h0M249.3 316h0M249.6 315.6h0M250.6 299.4h0M250.6 315.2h0M250.9 316.8h0M251.5 298.1h0M251.2 315.5h0M252.1 315.3h0M252 299.6h0M252.4 316.7h0M252.5 298.3h0M252.5 315.9h0M253.8 299.8h0M252.8 315.5h0M255.1 297.8h0M255.7 300.2h0M255.5 316.8h0M255.9 316h0" stroke="#17becf" stroke-width="0.8" stroke-linecap="round" stroke-opacity="0.55" fill="none"/>
<path d="M259 299.8h.5V314.4h-.5zM259.5 299.8h.5V315.7h-.5zM260 299.8h.5V314.7h-.5zM260.5 299.7h.5V315.1h-.5z" fill="#17becf" fill-opacity="1.0"/>
<path d="M259.2 315.1h0M260.6 317.5h0M261.2 299.3h0M260.4 315.7h0" stroke="#17becf" stroke-width="0.8" stroke-linecap="round" stroke-opacity="0.55" fill="none"/>
<path d="M269.5 304h.5V336.4h-.5zM270 301.6h.5V335.7h-.5zM270.5 303.5h.5V336.3h-.5z" fill="#17becf" fill-opacity="1.0"/>
<path d="M270.4 301.3h0M270.3 337.5h0" stroke="#17becf" stroke-width="0.8" stroke-linecap="round" stroke-opacity="0.55" fill="none"/>
<path d="M195.1 286.2h0M199.8 286.4h0M200.7 285.8h0M195.5 280.4h0M198.8 288.6h0M197.3 284.1h0M195.3 280.2h0M198.2 282.2h0M196.6 284.1h0M195.4 288.4h0M200.4 280.8h0M198.2 286.7h0M197.8 287.3h0M200.1 282.1h0M199.5 282.1h0M198.9 284.1h0M200.1 280.7h0M200.5 282.6h0M195.3 285.7h0M196.2 285.4h0M197 285.9h0M199.2 285.6h0M195.8 284.3h0M197.9 288.8h0M195.6 282h0M197.9 286.4h0M196.7 284.2h0M199.6 288.9h0M198.3 282.8h0M195.5 284.3h0" stroke="#17becf" stroke-width="0.9" stroke-linecap="round" stroke-opacity="0.4" fill="none"/>
<path d="M220.6 341.3V261.9M263 341.3V261.9M189.2 292.8H275M189.2 326.4H275" stroke="#adadad" stroke-width="0.9" stroke-dasharray="3.07 1.33" fill="none"/>
<path d="M189.2 292.8H275" stroke="#f00" stroke-width="1.8" stroke-dasharray="5.9 2.56" fill="none"/>
<path d="M189.2 261.9V341.3H275" stroke="#2a2a2a" stroke-width="1.15" fill="none"/>
<path d="M220.6 341.3v3.9M263 341.3v3.9M189.2 292.8h-3.9M189.2 326.4h-3.9" stroke="#000" stroke-width="0.95" fill="none"/>
<text x="220.6" y="357.9" text-anchor="middle">0.0</text>
<text x="263" y="357.9" text-anchor="middle">2.5</text>
<text x="181.3" y="297.1" text-anchor="end">0</text>
<text x="181.3" y="330.7" text-anchor="end">−20</text>
<text x="232.1" y="373.8" text-anchor="middle" font-size="11.05">ICTFEED</text>
</g>
<g>
<path d="M328.5 311.2h.5V327.6h-.5zM329 308.9h.5V327.9h-.5zM329.5 307.9h.5V329h-.5zM330 306.8h.5V329.9h-.5zM330.5 307.7h.5V330.8h-.5zM331 306.9h.5V329.9h-.5zM331.5 306.3h.5V331h-.5zM332 306.5h.5V332.2h-.5zM332.5 306.8h.5V332.5h-.5zM333 305.9h.5V333h-.5zM333.5 305.7h.5V333h-.5zM334 305.6h.5V332.4h-.5zM334.5 304.8h.5V330.7h-.5zM335 303.7h.5V329.5h-.5zM335.5 302.9h.5V328.8h-.5zM336 301.8h.5V325.6h-.5zM336.5 300.4h.5V321h-.5zM337 298.5h.5V315.8h-.5zM337.5 298h.5V312.3h-.5zM338 298.6h.5V308.9h-.5zM338.5 294.6h.5V307.7h-.5zM339 293.8h.5V305.8h-.5zM339.5 291.5h.5V303.7h-.5zM340 290.5h.5V302.5h-.5zM340.5 292h.5V300.4h-.5zM341 290h.5V298.3h-.5zM341.5 291.2h.5V299.8h-.5zM342 288.9h.5V299.3h-.5zM342.5 289.4h.5V299.7h-.5zM343 288.2h.5V299.5h-.5zM343.5 288h.5V299.4h-.5zM344 289.1h.5V299.6h-.5zM344.5 289h.5V299.2h-.5zM345 287.6h.5V298.4h-.5zM345.5 287.1h.5V298.7h-.5zM346 287.1h.5V298.7h-.5zM346.5 286.9h.5V298.1h-.5zM347 286.2h.5V298.3h-.5zM347.5 287.2h.5V298.8h-.5zM348 286.4h.5V297.9h-.5zM348.5 285h.5V297.3h-.5zM349 284.8h.5V297.8h-.5zM349.5 284.3h.5V297.9h-.5zM350 284.6h.5V297.7h-.5zM350.5 283.3h.5V297.3h-.5z" fill="#17becf" fill-opacity="1.0"/>
<path d="M328.3 305.4h0M329.2 328.7h0M329.5 308h0M329.5 329.6h0M329.7 329.3h0M329.3 306.3h0M330.1 330.2h0M330.8 330.4h0M330.6 306.2h0M330.9 333.5h0M331.2 305.7h0M331.2 332.3h0M331.1 333.6h0M331.6 331.8h0M332.2 345.5h0M331.8 306h0M332.3 336.8h0M333.3 333.8h0M333 332.6h0M333.1 333.1h0M334 304.5h0M333.3 337.1h0M334.1 304.3h0M334.4 333.5h0M334.9 303.3h0M335.3 332.7h0M334.9 301.7h0M334.8 331.2h0M335.4 332.3h0M336.2 301.8h0M335.2 331.8h0M335.6 328.7h0M336.4 300.9h0M336.2 326.1h0M336.3 300.1h0M336.9 322.6h0M337 326.8h0M337.5 298.1h0M337.2 317.3h0M338.3 297.3h0M338.1 312.6h0M337.7 296.2h0M338.4 312.2h0M339.2 294.1h0M338.7 311h0M338.4 311.4h0M339 293.2h0M339.3 309.7h0M338.9 305.8h0M340 304.8h0M340.1 304.5h0M339.7 289.2h0M340.4 302.9h0M340.2 303.3h0M340.7 289.4h0M341 304.8h0M341.3 302.8h0M341.3 288.9h0M341.6 301.5h0M341.5 288.2h0M341.6 301.9h0M342.3 287.8h0M342.3 303.4h0M342.3 304.8h0M343.3 301.2h0M342.8 287.1h0M342.8 308.1h0M343.6 287.1h0M344.2 301.5h0M343.7 300.4h0M344.3 288.2h0M344.5 301.2h0M344 300.7h0M344.8 287h0M344.6 300.4h0M345.5 300.9h0M346.1 300.7h0M345.9 299.7h0M346.7 287h0M346 299.2h0M346.4 285.3h0M346.3 300.5h0M347.3 284.4h0M347.6 301.3h0M346.9 298.9h0M347.2 285.8h0M347.4 299.7h0M348.6 285.3h0M348.1 299.5h0M348.6 298.5h0M348.6 285h0M348.4 299.7h0M348.7 299.8h0M349.8 283.9h0M349 299.9h0M348.7 298h0M350.2 284.2h0M350.2 298.4h0M349.4 298.1h0M350.4 283.6h0M349.7 298.3h0M350.8 282.5h0M350.6 297.7h0" stroke="#17becf" stroke-width="0.8" stroke-linecap="round" stroke-opacity="0.55" fill="none"/>
<path d="M351 283.3h.5V297h-.5zM351.5 280.1h.5V295.4h-.5zM352.5 277h.5V294h-.5zM353 278.1h.5V295.3h-.5zM353.5 281.8h.5V293.6h-.5zM354 279.8h.5V294.3h-.5zM354.5 279.7h.5V295.2h-.5zM355 280.3h.5V293.4h-.5zM355.5 281h.5V296.2h-.5zM356 282.2h.5V295.2h-.5zM356.5 280.8h.5V294.5h-.5zM357 280.6h.5V295.7h-.5zM358 282.1h.5V295.5h-.5zM358.5 282.9h.5V296.2h-.5zM359 281.1h.5V292h-.5zM359.5 282.9h.5V296h-.5z" fill="#17becf" fill-opacity="1.0"/>
<path d="M351.5 298.4h0M351.2 279.2h0M352.3 297.6h0M351.8 276.4h0M352.1 300.3h0M353.1 276.8h0M352.8 295.7h0M353.8 295.7h0M353.9 277h0M353.8 297.3h0M354.3 277.8h0M355.1 295.8h0M355.1 276h0M355.1 296.5h0M355.2 276.9h0M355.8 295.7h0M356.3 279.4h0M356.2 296.7h0M357 277.6h0M356.6 296.4h0M357.8 277.3h0M357.1 297.2h0M357.6 280.5h0M357.4 295.9h0M358.2 279.9h0M358.3 295.7h0M358.6 297.2h0M359.4 296.9h0" stroke="#17becf" stroke-width="0.8" stroke-linecap="round" stroke-opacity="0.55" fill="none"/>
<path d="M360.5 282.6h.5V297.1h-.5zM361 281.8h.5V295.6h-.5zM361.5 281.2h.5V294.3h-.5zM362.5 280.2h.5V297.7h-.5zM363 278.4h.5V298.1h-.5zM363.5 279.7h.5V298h-.5zM364.5 281.2h.5V295.3h-.5zM365 279.6h.5V295.2h-.5zM366 280.7h.5V295.1h-.5zM366.5 280.3h.5V294.8h-.5zM367 282.6h.5V292h-.5z" fill="#17becf" fill-opacity="1.0"/>
<path d="M360.2 280.2h0M359.8 297h0M360.3 279.3h0M361.3 296.8h0M360.9 298h0M361.6 278.7h0M362.2 280.9h0M362.2 296.7h0M362.2 279.8h0M362.7 298.6h0M363.4 277.8h0M362.8 298.6h0M363.5 298.5h0M364 274.2h0M364.6 300.2h0M365.1 277.5h0M365.2 298.4h0M364.9 277.4h0M365.4 298.5h0M365.4 279.4h0M365.6 299.4h0M366.4 277.9h0M365.7 297.9h0M366.5 278.8h0M366.2 298.3h0M367.1 299.5h0" stroke="#17becf" stroke-width="0.8" stroke-linecap="round" stroke-opacity="0.55" fill="none"/>
<path d="M352.4 271V280" stroke="#17becf" stroke-width="0.8" stroke-opacity="0.35"/>
<path d="M352.4 272.1V278.4" stroke="#17becf" stroke-width="0.8" stroke-opacity="0.70"/>
<path d="M364 271.6V280" stroke="#17becf" stroke-width="0.8" stroke-opacity="0.35"/>
<path d="M364 272.6V278.5" stroke="#17becf" stroke-width="0.8" stroke-opacity="0.70"/>
<path d="M366.6 275V280" stroke="#17becf" stroke-width="0.8" stroke-opacity="0.30"/>
<path d="M366.6 275.6V279.1" stroke="#17becf" stroke-width="0.8" stroke-opacity="0.60"/>
<path d="M371 284V298" stroke="#17becf" stroke-width="1.1" stroke-opacity="0.40"/>
<path d="M371 285.7V295.5" stroke="#17becf" stroke-width="1.1" stroke-opacity="0.80"/>
<path d="M372.4 282.4V298.4" stroke="#17becf" stroke-width="1.1" stroke-opacity="0.40"/>
<path d="M372.4 284.3V295.5" stroke="#17becf" stroke-width="1.1" stroke-opacity="0.80"/>
<path d="M374 284V298" stroke="#17becf" stroke-width="1.1" stroke-opacity="0.40"/>
<path d="M374 285.7V295.5" stroke="#17becf" stroke-width="1.1" stroke-opacity="0.80"/>
<path d="M382.4 282.4V296" stroke="#17becf" stroke-width="1.1" stroke-opacity="0.40"/>
<path d="M382.4 284V293.6" stroke="#17becf" stroke-width="1.1" stroke-opacity="0.80"/>
<path d="M383.6 284V296.4" stroke="#17becf" stroke-width="1.1" stroke-opacity="0.40"/>
<path d="M383.6 285.5V294.2" stroke="#17becf" stroke-width="1.1" stroke-opacity="0.80"/>
<path d="M392.6 285V298" stroke="#17becf" stroke-width="1.1" stroke-opacity="0.40"/>
<path d="M392.6 286.6V295.7" stroke="#17becf" stroke-width="1.1" stroke-opacity="0.80"/>
<path d="M396.4 284.4V298.4" stroke="#17becf" stroke-width="1.1" stroke-opacity="0.40"/>
<path d="M396.4 286.1V295.9" stroke="#17becf" stroke-width="1.1" stroke-opacity="0.80"/>
<path d="M406.4 285.6V297" stroke="#17becf" stroke-width="1.1" stroke-opacity="0.40"/>
<path d="M406.4 287V294.9" stroke="#17becf" stroke-width="1.1" stroke-opacity="0.80"/>
<path d="M365.6 307h0M364 266h0M334 337h0M353 270h0M374.4 282h0M382.4 282h0" stroke="#17becf" stroke-width="0.9" stroke-linecap="round" stroke-opacity="0.4" fill="none"/>
<path d="M328.4 341.3V261.9M389.6 341.3V261.9M324.6 270.2H410.4M324.6 299.6H410.4M324.6 329.2H410.4" stroke="#adadad" stroke-width="0.9" stroke-dasharray="3.07 1.33" fill="none"/>
<path d="M324.6 299.6H410.4" stroke="#f00" stroke-width="1.8" stroke-dasharray="5.9 2.56" fill="none"/>
<path d="M324.6 261.9V341.3H410.4" stroke="#2a2a2a" stroke-width="1.15" fill="none"/>
<path d="M328.4 341.3v3.9M389.6 341.3v3.9M324.6 270.2h-3.9M324.6 299.6h-3.9M324.6 329.2h-3.9" stroke="#000" stroke-width="0.95" fill="none"/>
<text x="328.4" y="357.9" text-anchor="middle">0</text>
<text x="389.6" y="357.9" text-anchor="middle">50</text>
<text x="316.7" y="274.5" text-anchor="end">20</text>
<text x="316.7" y="303.9" text-anchor="end">0</text>
<text x="316.7" y="333.5" text-anchor="end">−20</text>
<text x="367.5" y="373.8" text-anchor="middle" font-size="11.05">TOTMATH</text>
</g>
<g>
<path d="M464 293.6V330.4" stroke="#17becf" stroke-width="1.4" stroke-opacity="0.40" stroke-dasharray="1.6 0.7"/>
<path d="M464 298V316" stroke="#17becf" stroke-width="1.4" stroke-opacity="0.20"/>
<path d="M479.6 285V338.4" stroke="#17becf" stroke-width="1.4" stroke-opacity="0.45"/>
<path d="M479.6 291.4V328.8" stroke="#17becf" stroke-width="1.4" stroke-opacity="0.90"/>
<path d="M495 270.6V299" stroke="#17becf" stroke-width="1.5" stroke-opacity="0.50"/>
<path d="M495 274V293.9" stroke="#17becf" stroke-width="1.5" stroke-opacity="1.00"/>
<path d="M510.6 265.2V272.4" stroke="#17becf" stroke-width="1.4" stroke-opacity="0.45"/>
<path d="M510.6 266.1V271.1" stroke="#17becf" stroke-width="1.4" stroke-opacity="0.90"/>
<path d="M526.2 267.2V272.4" stroke="#17becf" stroke-width="1.4" stroke-opacity="0.45"/>
<path d="M526.2 267.8V271.5" stroke="#17becf" stroke-width="1.4" stroke-opacity="0.90"/>
<path d="M464 337.6h0M541.6 268.4h0M479.6 282h0" stroke="#17becf" stroke-width="0.9" stroke-linecap="round" stroke-opacity="0.4" fill="none"/>
<path d="M471.4 341.3V261.9M510.4 341.3V261.9M460.2 272.6H546M460.2 303.4H546M460.2 334.4H546" stroke="#adadad" stroke-width="0.9" stroke-dasharray="3.07 1.33" fill="none"/>
<path d="M460.2 272.6H546" stroke="#f00" stroke-width="1.8" stroke-dasharray="5.9 2.56" fill="none"/>
<path d="M460.2 261.9V341.3H546" stroke="#2a2a2a" stroke-width="1.15" fill="none"/>
<path d="M471.4 341.3v3.9M510.4 341.3v3.9M460.2 272.6h-3.9M460.2 303.4h-3.9M460.2 334.4h-3.9" stroke="#000" stroke-width="0.95" fill="none"/>
<text x="471.4" y="357.9" text-anchor="middle">−2.5</text>
<text x="510.4" y="357.9" text-anchor="middle">0.0</text>
<text x="452.3" y="276.9" text-anchor="end">0</text>
<text x="452.3" y="307.7" text-anchor="end">−25</text>
<text x="452.3" y="338.7" text-anchor="end">−50</text>
<text x="503.1" y="373.8" text-anchor="middle" font-size="11.05">GRADE</text>
</g>
<g>
<path d="M57 408.7h.5V428.7h-.5zM57.5 406.9h.5V428.2h-.5zM58 407.1h.5V432.7h-.5zM58.5 404.1h.5V434.9h-.5zM59 403.5h.5V431.8h-.5zM59.5 403h.5V433.6h-.5zM60 402.4h.5V432.9h-.5zM60.5 402.3h.5V432.3h-.5zM61 402.3h.5V430h-.5zM61.5 401.9h.5V431.8h-.5zM62 402.6h.5V429.9h-.5zM62.5 401.5h.5V429.7h-.5zM63 401.7h.5V429.1h-.5zM63.5 402.9h.5V429.2h-.5zM64 403.4h.5V426.2h-.5zM64.5 401.8h.5V427.1h-.5zM65 402.2h.5V425.1h-.5zM65.5 403.8h.5V421.3h-.5z" fill="#17becf" fill-opacity="1.0"/>
<path d="M57.8 407.6h0M57.6 429.8h0M57.8 429.7h0M57.8 407.1h0M58.3 431.6h0M57.8 435.7h0M58.4 404.4h0M57.9 434.5h0M57.9 433.4h0M58.6 404h0M58.6 440.7h0M58.6 435.3h0M59.4 436.2h0M59.5 435.1h0M60 402.7h0M59.3 433.9h0M59.3 437.8h0M60.3 439.3h0M60.3 435.2h0M61.3 399.2h0M60.2 436.7h0M60.8 433.7h0M61.1 401.1h0M61.7 432.6h0M61.2 432.7h0M61.3 399.6h0M62 441h0M62.7 401.3h0M62.2 431.1h0M61.8 432.9h0M63.3 399.9h0M63.2 433.6h0M63.1 400.5h0M63.6 434.1h0M63 430.1h0M64 429.6h0M63.5 429.4h0M64 401.9h0M64.7 433.8h0M63.8 427.9h0M64.6 399.9h0M65.2 426.8h0M64.7 430.4h0M65.7 402.1h0M65.8 427.7h0M65.6 430.4h0M65.4 402.6h0M66 425.5h0M65.9 424.4h0" stroke="#17becf" stroke-width="0.8" stroke-linecap="round" stroke-opacity="0.55" fill="none"/>
<path d="M67 402.8h.5V421.1h-.5zM67.5 402.5h.5V421.2h-.5zM68 401.5h.5V420.4h-.5zM68.5 400.6h.5V420.9h-.5zM69 400.7h.5V421.6h-.5zM69.5 399h.5V420.8h-.5zM70 398.4h.5V421.2h-.5zM70.5 398.3h.5V421.3h-.5zM71 397.5h.5V421.6h-.5zM71.5 397.3h.5V420.2h-.5zM72 398.2h.5V421.5h-.5zM72.5 397.3h.5V421.6h-.5zM73 397.2h.5V421.6h-.5zM73.5 396.6h.5V420.3h-.5zM74 397.9h.5V422h-.5zM74.5 397.1h.5V421h-.5zM75 397h.5V422.1h-.5zM75.5 398.2h.5V421.2h-.5zM76 397.6h.5V420.2h-.5zM76.5 399.6h.5V420.9h-.5zM77 398.5h.5V420.4h-.5zM77.5 399.5h.5V420.5h-.5zM78 400.2h.5V421.2h-.5zM78.5 399.4h.5V420.7h-.5zM79 400.2h.5V421.3h-.5zM79.5 401.6h.5V421.4h-.5zM80 401.3h.5V421.6h-.5zM80.5 401.5h.5V421.9h-.5zM81 401.8h.5V419.5h-.5zM81.5 404.4h.5V421.8h-.5zM82 403.8h.5V421.8h-.5zM82.5 403.1h.5V421.7h-.5zM83 404.6h.5V422.3h-.5zM83.5 403.7h.5V421.7h-.5zM84 404.2h.5V420.6h-.5zM84.5 404.3h.5V421.4h-.5zM85 404.3h.5V421.7h-.5zM85.5 407.8h.5V421.1h-.5zM86 406.4h.5V421.3h-.5zM86.5 407.3h.5V422.3h-.5zM87 407h.5V420.7h-.5zM87.5 406.6h.5V421.8h-.5zM88 406.9h.5V421.8h-.5zM88.5 408.9h.5V421.5h-.5zM89 408.1h.5V421.5h-.5zM89.5 409h.5V419.9h-.5zM90 409.4h.5V422.3h-.5zM90.5 409.4h.5V421.3h-.5zM91 411.3h.5V420.4h-.5zM91.5 413.3h.5V421.9h-.5zM92 413h.5V422.3h-.5z" fill="#17becf" fill-opacity="1.0"/>
<path d="M67.2 400.8h0M67.8 422.1h0M67.5 400.3h0M68.3 422h0M68.4 400h0M68.8 422.7h0M68.8 399.4h0M68.8 422.7h0M69.8 423h0M69.2 398h0M69.2 422.2h0M70.1 394.8h0M70.6 421.6h0M70.4 397.4h0M70.9 423.5h0M71.1 397h0M71.8 425.6h0M72.4 396.9h0M72.6 423h0M72.3 394h0M72.9 427.4h0M73.1 392.1h0M73.8 422h0M73.8 396.1h0M74 424.1h0M73.9 396.6h0M74 422.7h0M75.3 394.2h0M74.6 424.2h0M75.3 397.2h0M75.2 423.9h0M75.3 397h0M75.2 423.2h0M76.7 397.6h0M76.7 397h0M77.3 424.6h0M77.6 398.2h0M77.7 421.8h0M78 397.3h0M78.3 422.5h0M77.8 397.8h0M78.6 423.7h0M78.3 399.1h0M78.3 422.3h0M78.9 399.6h0M79.6 400.2h0M80 422.7h0M79.8 399h0M80.4 424.3h0M80.9 398.5h0M81 425.9h0M81.4 401.2h0M81.3 424.2h0M81.9 400.4h0M82.6 421.9h0M83.3 402.1h0M82.5 423.4h0M83.2 401.7h0M83.2 422.2h0M83.8 403.1h0M83.6 421.9h0M84 400.8h0M84.4 422.4h0M84.3 421.9h0M85.5 404.3h0M85.6 423.2h0M86.1 422.1h0M86.8 404.2h0M86.5 426.9h0M87.1 404.2h0M87.8 406h0M88.3 405.9h0M87.4 426h0M88.7 406.6h0M88.4 422.5h0M89.2 407h0M88.5 423.6h0M89.7 406.5h0M89.4 424.7h0M89.8 407.8h0M89.3 425.3h0M89.8 408.6h0M90.7 425.2h0M90.2 409.2h0M90.7 424.9h0M90.9 408.2h0M91.7 422.4h0M91.5 411.1h0M91.8 423.5h0M92.7 413.1h0M92 424.7h0" stroke="#17becf" stroke-width="0.8" stroke-linecap="round" stroke-opacity="0.55" fill="none"/>
<path d="M92 422.5h.5V431.8h-.5zM92.5 422.4h.5V434.2h-.5zM93 422.6h.5V436.1h-.5zM93.5 422.4h.5V439.1h-.5zM94 423.1h.5V440.9h-.5zM94.5 423.3h.5V439.3h-.5zM95 423.6h.5V441.2h-.5zM95.5 422.9h.5V443.6h-.5zM96 423.3h.5V444.2h-.5zM96.5 423.4h.5V444.1h-.5zM97 423.2h.5V443.9h-.5zM97.5 423.9h.5V442.8h-.5zM98 423.4h.5V443.7h-.5zM98.5 423.7h.5V438.4h-.5zM99 422.9h.5V442.3h-.5zM99.5 423.5h.5V439.3h-.5zM100 423.1h.5V441.2h-.5zM100.5 423.9h.5V440.4h-.5zM101 423.2h.5V442.7h-.5zM101.5 422.9h.5V443.3h-.5zM102 423.9h.5V442.3h-.5zM102.5 423.4h.5V438h-.5zM103 423.7h.5V443.3h-.5zM103.5 423.8h.5V443.2h-.5zM104 423.7h.5V440.8h-.5zM104.5 423.4h.5V441.7h-.5zM105 423.5h.5V442.8h-.5zM105.5 423h.5V441.9h-.5zM106 424.2h.5V438.8h-.5zM106.5 422.9h.5V442.1h-.5zM107 423.3h.5V442.3h-.5zM107.5 423.1h.5V440.4h-.5zM108 423.2h.5V442.9h-.5zM108.5 423.5h.5V443h-.5zM109 423h.5V441.2h-.5zM109.5 423.9h.5V441.1h-.5zM110 423h.5V441.4h-.5zM110.5 423.3h.5V438.4h-.5zM111 423.5h.5V441.1h-.5zM111.5 423.2h.5V439.2h-.5zM112 423.5h.5V440.1h-.5zM112.5 423.2h.5V441.1h-.5zM113 423.3h.5V441.2h-.5zM113.5 423.4h.5V440h-.5zM114 423.5h.5V438.8h-.5zM114.5 423h.5V440.8h-.5zM115 423h.5V440.2h-.5zM115.5 423.1h.5V436.5h-.5zM116 423.1h.5V439.3h-.5zM116.5 423.2h.5V438.8h-.5zM117 423.5h.5V439.5h-.5zM117.5 423.2h.5V439.7h-.5zM118 423.1h.5V436.1h-.5zM118.5 423.5h.5V439h-.5zM119 423.5h.5V437.3h-.5zM119.5 423.1h.5V437.8h-.5zM120 423.7h.5V432.5h-.5zM120.5 423.9h.5V436.3h-.5zM121 424.2h.5V437.1h-.5zM121.5 423.4h.5V436.8h-.5zM122 423.4h.5V437.6h-.5zM122.5 423.4h.5V439h-.5zM123 423.6h.5V438.9h-.5zM123.5 424.3h.5V435.6h-.5zM124 424.5h.5V436.4h-.5zM124.5 424.4h.5V434.7h-.5zM125 424.5h.5V434h-.5z" fill="#17becf" fill-opacity="1.0"/>
<path d="M91.8 436.7h0M92.7 434.7h0M93.2 436.9h0M93 438.4h0M93.7 436.8h0M93.3 445.8h0M93.9 446.6h0M93.8 444.6h0M94.7 440.8h0M93.9 444.6h0M94.6 440.7h0M94.9 444.2h0M95.2 441.7h0M94.7 443.6h0M95.6 445.2h0M95.5 419.9h0M96.3 449.6h0M95.8 446.5h0M96.7 444.5h0M96 445.5h0M96.2 443.5h0M96.2 447.8h0M96.2 443.6h0M97 422.3h0M97.2 444.4h0M96.9 446.9h0M97.8 422.7h0M97.8 450.4h0M97.9 444.3h0M98.1 446.7h0M98.8 444.4h0M97.8 446.4h0M98.8 421.8h0M98.5 448.2h0M98.4 451.5h0M98.7 423h0M98.7 443.5h0M99.5 449.8h0M100 421.7h0M99.2 443.4h0M99.6 445.5h0M100.2 442.5h0M100.5 421.2h0M100 443.7h0M100.7 443.4h0M100.2 451.7h0M100.8 445.8h0M101.3 442.9h0M101.5 442.5h0M101.2 442.5h0M101.1 447h0M101.3 446.5h0M102.3 445.2h0M101.4 444.1h0M101.9 442.8h0M101.8 448.3h0M102.1 443.5h0M103 444.4h0M103.3 451.1h0M103.5 444.5h0M103.4 447.4h0M102.7 446h0M103.7 443.7h0M103.3 443h0M104.4 443.9h0M104.5 444h0M104.6 422.7h0M105.2 443.7h0M105 453.2h0M105.2 442.9h0M105.2 444.8h0M105 444.1h0M106 422.1h0M105.9 445.3h0M105.4 444.2h0M106.6 422.6h0M106 445.6h0M105.8 443.9h0M106.7 443h0M107.1 443.5h0M107.3 447.9h0M107.1 446.5h0M107.4 445.3h0M107.5 447.8h0M107.7 448.2h0M107.8 444.8h0M107.9 443.3h0M108 444h0M109 443.2h0M109 449.7h0M109 447.5h0M109.1 442.9h0M109.8 443.6h0M110.3 443.1h0M109.8 443.9h0M110.3 443.9h0M110.8 447.6h0M110.8 446.7h0M110.6 442h0M111.2 442.8h0M111 445.5h0M111.5 443.1h0M111.3 444.1h0M111.8 451.3h0M111.2 442.5h0M112.6 442.3h0M112.7 450.1h0M113.2 423.1h0M113.3 443.6h0M112.4 450.5h0M112.9 452.9h0M112.8 446.8h0M113.6 441.4h0M113.5 443.5h0M114.3 445.5h0M114.8 441.9h0M115.2 440.9h0M114.9 440.6h0M115.7 441.1h0M114.9 447.9h0M115.3 422h0M115.7 441.5h0M115.3 445.5h0M115.8 443.8h0M116.5 444.4h0M116.8 440.2h0M117.2 441.7h0M116.9 446h0M117.4 444.4h0M116.8 445.4h0M117.6 445.1h0M118.1 441.4h0M117.9 449.4h0M118.7 443.2h0M117.7 446.4h0M118.5 444.4h0M119.2 440h0M119.2 440.2h0M119 454h0M119.6 444.2h0M120.1 441.4h0M120.5 448h0M119.7 440.5h0M120.8 438.9h0M120.3 440.2h0M121.3 442.6h0M121.1 440h0M121.2 440.4h0M121.2 445.6h0M121.7 441.3h0M122.3 439.7h0M122.5 443h0M122.3 422.2h0M122.5 440h0M122.2 438.8h0M122.9 422.7h0M123.7 440.7h0M122.8 441.9h0M123.8 448.7h0M123.7 438.5h0M123.9 437.8h0M123.9 439.4h0M124.3 436.9h0M124.2 436.2h0M124.5 436.9h0M124.2 436.4h0M125.5 424.4h0M125.8 436.6h0M125.7 436.7h0" stroke="#17becf" stroke-width="0.8" stroke-linecap="round" stroke-opacity="0.55" fill="none"/>
<path d="M128 427.4h.5V440.7h-.5zM128.5 427h.5V442.4h-.5zM129 425h.5V446.4h-.5zM129.5 424.9h.5V448.6h-.5zM130 425.8h.5V452.2h-.5zM130.5 426.6h.5V448.5h-.5zM131 425.3h.5V454.9h-.5zM131.5 426.6h.5V454.3h-.5zM132 425.3h.5V454.9h-.5zM132.5 426h.5V456.6h-.5zM133 426.1h.5V458.8h-.5zM133.5 427.1h.5V456.6h-.5zM134 426.7h.5V457.1h-.5zM134.5 428h.5V458.4h-.5zM135 428.1h.5V450.5h-.5zM135.5 430.5h.5V448.3h-.5z" fill="#17becf" fill-opacity="1.0"/>
<path d="M128 423.3h0M128 443.1h0M127.7 454h0M127.8 444.3h0M129.3 446.2h0M128.7 445.1h0M129.2 446.1h0M129.8 424.5h0M129.5 450h0M129.1 452h0M129.2 449.3h0M129.2 424.4h0M130.3 450.4h0M130.2 450.8h0M129.9 460.1h0M129.7 454.1h0M130.6 456.6h0M130.6 451.8h0M130.4 423.5h0M131 457.5h0M130.5 458.4h0M130.2 458.6h0M131.3 423.9h0M131.7 460.7h0M130.7 457.7h0M131.2 470.2h0M132.1 424.6h0M132.1 464.9h0M131.9 457h0M131.5 457.1h0M132.6 458.6h0M132 467.6h0M132.6 459.3h0M132.3 464.5h0M133.1 458.9h0M133.3 469.3h0M132.9 471.7h0M133.1 459.1h0M133.3 463.8h0M133.4 422.6h0M133.8 458.8h0M133.2 459.9h0M133.8 459.9h0M134.2 424.7h0M134.7 461.6h0M134.2 464.4h0M133.9 464.8h0M134.5 427.3h0M135.1 460.4h0M135.2 461h0M134.3 475.7h0M135.5 427.2h0M135.6 453.6h0M135.6 454.5h0M135.4 455h0M136.3 428.9h0M135.8 454.2h0M135.8 454.1h0M135.3 451.7h0" stroke="#17becf" stroke-width="0.8" stroke-linecap="round" stroke-opacity="0.55" fill="none"/>
<path d="M92.8 469.4V390M133.6 469.4V390M54 422.6H139.8M54 464H139.8" stroke="#adadad" stroke-width="0.9" stroke-dasharray="3.07 1.33" fill="none"/>
<path d="M54 422.6H139.8" stroke="#f00" stroke-width="1.8" stroke-dasharray="5.9 2.56" fill="none"/>
<path d="M54 390V469.4H139.8" stroke="#2a2a2a" stroke-width="1.15" fill="none"/>
<path d="M92.8 469.4v3.9M133.6 469.4v3.9M54 422.6h-3.9M54 464h-3.9" stroke="#000" stroke-width="0.95" fill="none"/>
<text x="92.8" y="486" text-anchor="middle">0.0</text>
<text x="133.6" y="486" text-anchor="middle">2.5</text>
<text x="46.1" y="426.9" text-anchor="end">0</text>
<text x="46.1" y="468.3" text-anchor="end">−20</text>
<text x="96.9" y="501.9" text-anchor="middle" font-size="11.05">COGACMCO</text>
</g>
<g>
<path d="M192.5 428h.5V437.3h-.5zM193 427.4h.5V438.3h-.5zM193.5 424.9h.5V438.3h-.5zM194 424h.5V438.9h-.5zM194.5 423.4h.5V440.8h-.5zM195 420.9h.5V443.1h-.5zM195.5 419.6h.5V443.8h-.5zM196 422.8h.5V443.6h-.5zM196.5 420.3h.5V443.9h-.5zM197 422.7h.5V443.7h-.5zM197.5 420.6h.5V440.8h-.5zM198 422.5h.5V443.3h-.5zM198.5 421.4h.5V438.5h-.5zM199 423.2h.5V442.2h-.5zM199.5 424.4h.5V441.5h-.5zM200 424.7h.5V440.8h-.5zM200.5 424.2h.5V439.4h-.5zM201 426.2h.5V438.4h-.5z" fill="#17becf" fill-opacity="1.0"/>
<path d="M192.7 425.8h0M192.9 441.4h0M193 445.7h0M192.5 438.2h0M193 422.4h0M193.2 438.7h0M192.8 457.3h0M193.5 439.1h0M194.3 440.9h0M193.4 443.4h0M193.6 439.9h0M194.8 423.5h0M194.6 441.6h0M194.7 450.2h0M194.6 442.3h0M194.7 421.6h0M194.7 447.7h0M195.1 445h0M194.5 443.1h0M194.9 448.5h0M195.6 448.1h0M194.9 443.3h0M196.2 454.7h0M196.2 448.7h0M195.6 446.5h0M196.5 417.1h0M195.7 444.6h0M196.1 447.1h0M196 445.1h0M196.4 452.6h0M196.5 445.1h0M196.7 450h0M196.7 418h0M197.3 445.3h0M196.7 444h0M197.2 443.7h0M197.3 419.3h0M197.7 445.3h0M197.6 445.9h0M198 449.9h0M198.1 420.3h0M198.1 447.9h0M198 444.3h0M198.7 443.1h0M198.6 420.7h0M198.6 443.9h0M198.7 452.4h0M198.9 448.4h0M199.6 421.4h0M199 454.9h0M199.6 450.5h0M199.8 443.7h0M200.1 422h0M199.6 441.8h0M199.5 450.1h0M199.7 444.3h0M200.2 421.6h0M200.8 442.7h0M200.2 443.5h0M200.8 448.2h0M201 452.7h0M200.5 440.6h0M200.5 441.7h0M200.9 422.9h0M201 464.4h0M200.9 440.5h0M201.4 443h0" stroke="#17becf" stroke-width="0.8" stroke-linecap="round" stroke-opacity="0.55" fill="none"/>
<path d="M202 425.5h.5V436.2h-.5zM202.5 425.6h.5V434h-.5zM203 425.9h.5V437.3h-.5zM203.5 425.2h.5V438.1h-.5zM204 425.6h.5V437.1h-.5zM204.5 426.2h.5V438.6h-.5zM205 426h.5V437.3h-.5zM205.5 425.2h.5V438.5h-.5zM206 425.1h.5V439.3h-.5zM206.5 426.7h.5V438.8h-.5zM207 425.4h.5V439.3h-.5zM207.5 426.3h.5V436.9h-.5zM208 425.3h.5V437.5h-.5zM208.5 425.1h.5V438.7h-.5zM209 425.1h.5V437.4h-.5zM209.5 425.7h.5V439.8h-.5zM210 425.5h.5V439.5h-.5zM210.5 425.1h.5V439.6h-.5zM211 425.3h.5V440h-.5zM211.5 425.1h.5V438.5h-.5zM212 425.8h.5V439.6h-.5zM212.5 425.6h.5V440.3h-.5zM213 425.2h.5V440.3h-.5zM213.5 426h.5V440.1h-.5zM214 426.3h.5V440.3h-.5zM214.5 425.4h.5V440.1h-.5zM215 425.5h.5V439.7h-.5zM215.5 425.6h.5V440.1h-.5zM216 425.3h.5V439.4h-.5zM216.5 425.5h.5V438.2h-.5zM217 425.1h.5V439.4h-.5zM217.5 425.3h.5V438.5h-.5zM218 426h.5V439.3h-.5zM218.5 425.1h.5V440.7h-.5zM219 425.2h.5V441.5h-.5zM219.5 425.5h.5V441.9h-.5zM220 425.8h.5V442.3h-.5zM220.5 425.2h.5V445.1h-.5zM221 424.6h.5V444.4h-.5zM221.5 423.5h.5V441.3h-.5zM222 422.9h.5V441.3h-.5zM222.5 422.7h.5V441.1h-.5zM223 421.8h.5V439.3h-.5zM223.5 420.9h.5V439.4h-.5zM224 421.2h.5V438h-.5zM224.5 421.3h.5V437.1h-.5zM225 420h.5V437.6h-.5zM225.5 419.7h.5V437.3h-.5zM226 417.5h.5V431.2h-.5zM226.5 416.8h.5V428h-.5z" fill="#17becf" fill-opacity="1.0"/>
<path d="M201.7 439.7h0M201.7 437.9h0M202.5 438.6h0M203.4 424.8h0M203.2 437.8h0M203.6 446.3h0M203.9 425.1h0M203.7 438.6h0M204.6 439.3h0M205.2 438.6h0M204.7 441h0M205.8 439.1h0M206.4 441.2h0M205.7 440.8h0M207 440.4h0M207 442.4h0M207.5 441.7h0M208 441.1h0M207.7 440.2h0M207.7 441h0M208 438.8h0M208.8 439.3h0M209.2 440.5h0M209.6 424.9h0M209.7 444.4h0M209.7 441.4h0M209.7 439.6h0M210 441.3h0M209.9 440.6h0M210.5 441.6h0M211 441.4h0M211.2 440.6h0M211.3 443.1h0M211.9 440.3h0M213.2 440.3h0M212.7 445.4h0M213.4 443.1h0M213.8 440.4h0M214.4 441.3h0M214.2 445.3h0M215.3 441.7h0M215.6 439.8h0M215.4 443.4h0M215.8 441.1h0M216.3 439.6h0M216.8 448.1h0M217 423.9h0M217.7 443.4h0M217.6 440.4h0M218.2 442h0M218 442.1h0M218.8 440.2h0M218.7 442.5h0M219.2 446.6h0M219 424.7h0M219.4 443h0M219.4 443.2h0M219.6 442.6h0M220.3 447h0M220.2 445.9h0M221.5 422.7h0M220.9 446h0M221.8 444.9h0M222.3 444h0M222.8 444.8h0M222.6 446.7h0M222.8 441h0M223.2 442.7h0M224 441.5h0M223.6 440.8h0M224.5 420.3h0M223.7 440.5h0M224.7 439.4h0M224.7 418.7h0M224.9 440.3h0M225.6 439h0M225.3 439.9h0M225.8 433.9h0M227 431.2h0" stroke="#17becf" stroke-width="0.8" stroke-linecap="round" stroke-opacity="0.55" fill="none"/>
<path d="M222 420.9h.5V428h-.5zM222.5 420.5h.5V428.1h-.5zM223 420h.5V428h-.5zM223.5 418.4h.5V428.3h-.5zM224 418.5h.5V427.6h-.5zM224.5 419.6h.5V428.3h-.5zM225 417.5h.5V427.8h-.5zM225.5 418.3h.5V427.9h-.5zM226 416.6h.5V427.8h-.5zM226.5 416.9h.5V427.9h-.5zM227 415.7h.5V425.6h-.5zM227.5 415.5h.5V426.1h-.5zM228 415.5h.5V426.1h-.5zM228.5 414.6h.5V426.3h-.5zM229 414.6h.5V425.1h-.5zM229.5 413.2h.5V426h-.5zM230 413.7h.5V425.1h-.5zM230.5 414.1h.5V424.2h-.5zM231 413h.5V424h-.5zM231.5 411.9h.5V424h-.5zM232 411.8h.5V423.8h-.5zM232.5 413.2h.5V424.9h-.5zM233 412.4h.5V424.2h-.5zM233.5 412.1h.5V424.7h-.5zM234 411.2h.5V424.5h-.5zM234.5 410.4h.5V422.5h-.5zM235 411.7h.5V423.2h-.5zM235.5 410.4h.5V423.2h-.5zM236 410.4h.5V423.3h-.5zM236.5 409.2h.5V420.8h-.5zM237 409.2h.5V421.4h-.5zM237.5 408.8h.5V423h-.5zM238 411.8h.5V425.4h-.5zM238.5 409.3h.5V425h-.5zM239 408.4h.5V428.7h-.5zM239.5 407.9h.5V429.1h-.5zM240 409.4h.5V424.3h-.5zM240.5 407.7h.5V424.6h-.5zM241 408.4h.5V423h-.5zM241.5 407.6h.5V421.9h-.5zM242 406.8h.5V421.4h-.5zM242.5 408.1h.5V420.9h-.5zM243 406.5h.5V418.4h-.5zM243.5 411.6h.5V421.3h-.5zM244 409.1h.5V420.2h-.5zM244.5 406.6h.5V421.1h-.5zM245 407.2h.5V420.8h-.5zM245.5 407.1h.5V419.2h-.5zM246 409.2h.5V420.2h-.5zM246.5 407.2h.5V418.7h-.5zM247 408.2h.5V419.8h-.5zM247.5 407.1h.5V419.7h-.5zM248 406.6h.5V418.7h-.5zM248.5 408.2h.5V418.9h-.5zM249 406h.5V419.7h-.5zM249.5 406.1h.5V419h-.5zM250 406.4h.5V418.7h-.5zM250.5 408.5h.5V418.9h-.5zM251 405.9h.5V418.3h-.5zM251.5 406.7h.5V420h-.5zM252 406.1h.5V416.8h-.5zM252.5 406.1h.5V417.8h-.5zM253 405.8h.5V419.5h-.5zM253.5 405.3h.5V418.5h-.5zM254 406.4h.5V418.3h-.5zM254.5 408.3h.5V419.5h-.5zM255 405.1h.5V417.1h-.5zM255.5 404.6h.5V419.1h-.5zM256 404.6h.5V419h-.5zM256.5 406.2h.5V418.3h-.5zM257 404.7h.5V418.2h-.5zM257.5 403.8h.5V419.2h-.5zM258 405.8h.5V417.7h-.5zM258.5 405.3h.5V418h-.5zM259 404.7h.5V418.9h-.5zM259.5 405h.5V418.7h-.5zM260 403.5h.5V417.9h-.5zM260.5 403h.5V418.1h-.5zM261 402.2h.5V418.3h-.5zM261.5 403.2h.5V418.3h-.5zM262 402.7h.5V418.4h-.5zM262.5 401.8h.5V419.9h-.5zM263 401.9h.5V418.2h-.5zM263.5 403.8h.5V419.9h-.5zM264 401h.5V421.2h-.5zM264.5 402.4h.5V420.2h-.5zM265 401.5h.5V423.7h-.5zM265.5 403h.5V421.8h-.5zM266 402.5h.5V422.2h-.5zM266.5 403.5h.5V423.2h-.5zM267 404.9h.5V422.6h-.5zM267.5 404.3h.5V422.7h-.5zM268 406.4h.5V421.5h-.5zM268.5 405.8h.5V422h-.5zM269 407.4h.5V422.5h-.5zM269.5 407.8h.5V421.8h-.5zM270 406.9h.5V421.1h-.5zM270.5 408.7h.5V422.4h-.5zM271 407.7h.5V419.5h-.5zM271.5 409h.5V420.5h-.5z" fill="#17becf" fill-opacity="1.0"/>
<path d="M222 419.8h0M222.7 427.9h0M222.7 416.9h0M223.2 427.9h0M223.4 418.4h0M223.2 428.4h0M224 418.6h0M224.2 429.4h0M224 418.3h0M224.4 430.2h0M225 417.2h0M225.8 416.3h0M225.8 428.2h0M226.1 416.9h0M225.3 433.3h0M226.2 416.4h0M227 415.6h0M228.3 414.9h0M227.7 412.9h0M228.7 413.5h0M229.2 433.2h0M229 413.5h0M228.7 426h0M229.2 411.5h0M229.9 425.7h0M230.2 411.9h0M231.3 428.2h0M231.2 411.5h0M231.1 426.6h0M232 412.1h0M232.1 425.2h0M232.1 425.1h0M232.4 411.5h0M232.4 427.2h0M233.4 410.3h0M233.6 424.9h0M233.8 410.7h0M233.2 425.2h0M234 410.8h0M235.1 410.1h0M234.2 424.5h0M235.1 409.9h0M234.7 424.9h0M236.1 409.4h0M235.8 426h0M236 408.9h0M236.8 424.3h0M236.7 409.5h0M236.4 424h0M236.7 408.8h0M237.2 407.8h0M238.3 426.7h0M238.8 408.7h0M238.6 425.6h0M239.2 408.6h0M238.5 425.6h0M239.4 408h0M239.2 429h0M240.1 430.1h0M240.3 407.7h0M240.5 425.7h0M240.7 405.3h0M240.3 424.9h0M241.8 407.1h0M240.7 426.5h0M241.4 406.1h0M241.7 423h0M241.9 405.4h0M242 424.5h0M242.7 406.9h0M243.6 423.8h0M243.2 406.5h0M244.3 422.2h0M244 406.8h0M244.5 422h0M245.3 406.4h0M245.8 405.9h0M245.3 421.5h0M245.2 406.4h0M245.7 421.2h0M245.7 423.8h0M246.3 404.2h0M247.2 421h0M247.7 404.6h0M247.1 421.8h0M247.8 404.1h0M247.7 420.6h0M248.8 406.3h0M248.6 421.9h0M249.2 420.8h0M249.3 420.5h0M250.7 404.1h0M250.7 420.2h0M251.2 403.1h0M250.7 420.2h0M251.7 420.7h0M251.8 403.6h0M251.2 421.6h0M252.3 419.7h0M252.7 404.3h0M252.8 420.1h0M253.1 403.6h0M253.2 404.6h0M254.2 420.3h0M253.9 404.9h0M254.7 403.2h0M255.2 420.4h0M255.8 402.1h0M255 419.4h0M256.7 404.5h0M256.3 420.2h0M257.3 404.3h0M257 419.4h0M257.5 404.2h0M257 424.9h0M257.9 397.8h0M258 419h0M257.7 419.6h0M258.4 419.4h0M258.9 403.1h0M259.2 419.4h0M260.2 402.3h0M259.9 418.8h0M260.1 419h0M261.1 402.4h0M260.5 418.8h0M261.5 400.9h0M261.8 419.6h0M261.8 401.4h0M261.4 419.5h0M262.3 420.7h0M262.8 400.7h0M262.9 400.8h0M263.1 423.1h0M263.2 401.5h0M263.7 421.4h0M264 400.8h0M264.4 398.9h0M265 422.9h0M265.4 401h0M265 423.8h0M266 401.3h0M266.2 423.9h0M266.9 401.8h0M267 424.2h0M267.8 422.6h0M267.8 399.4h0M267.7 422.8h0M268.1 403.7h0M268 423.5h0M268.9 405.2h0M269.8 424.1h0M269.5 405.2h0M269.3 424.7h0M270 423.8h0M271.8 405.9h0M271.5 421.6h0M272.1 408.2h0M271.5 420.8h0" stroke="#17becf" stroke-width="0.8" stroke-linecap="round" stroke-opacity="0.55" fill="none"/>
<path d="M241.6 399.2h0M242.9 403.5h0M195.4 453.6h0M196.7 449.3h0M206.6 448.4h0M220.4 447.6h0M267 429.5h0M261 398.4h0M271.4 403.5h0" stroke="#17becf" stroke-width="0.9" stroke-linecap="round" stroke-opacity="0.4" fill="none"/>
<path d="M192.8 469.4V390M228.8 469.4V390M264.8 469.4V390M189.2 424.6H275M189.2 464.6H275" stroke="#adadad" stroke-width="0.9" stroke-dasharray="3.07 1.33" fill="none"/>
<path d="M189.2 424.6H275" stroke="#f00" stroke-width="1.8" stroke-dasharray="5.9 2.56" fill="none"/>
<path d="M189.2 390V469.4H275" stroke="#2a2a2a" stroke-width="1.15" fill="none"/>
<path d="M192.8 469.4v3.9M228.8 469.4v3.9M264.8 469.4v3.9M189.2 424.6h-3.9M189.2 464.6h-3.9" stroke="#000" stroke-width="0.95" fill="none"/>
<text x="192.8" y="486" text-anchor="middle">−2.5</text>
<text x="228.8" y="486" text-anchor="middle">0.0</text>
<text x="264.8" y="486" text-anchor="middle">2.5</text>
<text x="181.3" y="428.9" text-anchor="end">0</text>
<text x="181.3" y="468.9" text-anchor="end">−20</text>
<text x="232.1" y="501.9" text-anchor="middle" font-size="11.05">MATHEF21</text>
</g>
<g>
<path d="M328.5 397.4V447.1" stroke="#17becf" stroke-width="1.3" stroke-opacity="0.47"/>
<path d="M328.5 403.4V438.1" stroke="#17becf" stroke-width="1.3" stroke-opacity="0.95"/>
<path d="M333.3 411.6V431.5" stroke="#17becf" stroke-width="1.0" stroke-opacity="0.45" stroke-dasharray="0.7 1.6"/>
<path d="M333.3 421.3V429.3" stroke="#17becf" stroke-width="1.0" stroke-opacity="0.50" stroke-dasharray="0.9 0.9"/>
<path d="M338.3 416V427.9" stroke="#17becf" stroke-width="1.0" stroke-opacity="0.45" stroke-dasharray="0.7 1.7"/>
<path d="M338.3 421.3V426.7" stroke="#17becf" stroke-width="1.0" stroke-opacity="0.40" stroke-dasharray="0.9 0.9"/>
<path d="M343 411.6V436.1" stroke="#17becf" stroke-width="1.0" stroke-opacity="0.45" stroke-dasharray="0.7 1.5"/>
<path d="M343 423.1V432.9" stroke="#17becf" stroke-width="1.1" stroke-opacity="0.60" stroke-dasharray="1.2 0.6"/>
<path d="M348 409.8V438.2" stroke="#17becf" stroke-width="1.0" stroke-opacity="0.45" stroke-dasharray="0.7 1.5"/>
<path d="M348 423.1V434.6" stroke="#17becf" stroke-width="1.2" stroke-opacity="0.70" stroke-dasharray="1.4 0.5"/>
<path d="M353 408.9V438.5" stroke="#17becf" stroke-width="1.0" stroke-opacity="0.50" stroke-dasharray="0.7 1.3"/>
<path d="M353 417.8V436.4" stroke="#17becf" stroke-width="1.3" stroke-opacity="0.75" stroke-dasharray="1.8 0.4"/>
<path d="M357.8 412.5V438.5" stroke="#17becf" stroke-width="1.4" stroke-opacity="0.42"/>
<path d="M357.8 415.6V433.9" stroke="#17becf" stroke-width="1.4" stroke-opacity="0.85"/>
<path d="M362.6 421.9V439.6" stroke="#17becf" stroke-width="1.4" stroke-opacity="0.47"/>
<path d="M362.6 424V436.4" stroke="#17becf" stroke-width="1.4" stroke-opacity="0.95"/>
<path d="M367.5 437.3V455.9" stroke="#17becf" stroke-width="1.0" stroke-opacity="0.35"/>
<path d="M367.5 439.5V452.6" stroke="#17becf" stroke-width="1.0" stroke-opacity="0.70"/>
<path d="M372.3 444.4V453.8" stroke="#17becf" stroke-width="1.5" stroke-opacity="0.47"/>
<path d="M372.3 445.5V452.1" stroke="#17becf" stroke-width="1.5" stroke-opacity="0.95"/>
<path d="M377.1 445.3V456.3" stroke="#17becf" stroke-width="1.5" stroke-opacity="0.47"/>
<path d="M377.1 446.6V454.3" stroke="#17becf" stroke-width="1.5" stroke-opacity="0.95"/>
<path d="M382.1 446.7V462.7" stroke="#17becf" stroke-width="1.5" stroke-opacity="0.47"/>
<path d="M382.1 448.6V459.8" stroke="#17becf" stroke-width="1.5" stroke-opacity="0.95"/>
<path d="M387 446.7V461.6" stroke="#17becf" stroke-width="1.5" stroke-opacity="0.47"/>
<path d="M387 448.5V458.9" stroke="#17becf" stroke-width="1.5" stroke-opacity="0.95"/>
<path d="M391.8 447.1V460.9" stroke="#17becf" stroke-width="1.5" stroke-opacity="0.47"/>
<path d="M391.8 448.7V458.4" stroke="#17becf" stroke-width="1.5" stroke-opacity="0.95"/>
<path d="M396.6 446.7V462" stroke="#17becf" stroke-width="1.5" stroke-opacity="0.47"/>
<path d="M396.6 448.5V459.2" stroke="#17becf" stroke-width="1.5" stroke-opacity="0.95"/>
<path d="M401.6 449.2V459.1" stroke="#17becf" stroke-width="1.5" stroke-opacity="0.47"/>
<path d="M401.6 450.4V457.3" stroke="#17becf" stroke-width="1.5" stroke-opacity="0.95"/>
<path d="M406.3 441.7V463.9" stroke="#17becf" stroke-width="1.2" stroke-opacity="0.42"/>
<path d="M406.3 444.4V459.9" stroke="#17becf" stroke-width="1.2" stroke-opacity="0.85"/>
<path d="M328.4 469.4V390M367.4 469.4V390M406.6 469.4V390M324.6 394.8H410.4M324.6 443H410.4" stroke="#adadad" stroke-width="0.9" stroke-dasharray="3.07 1.33" fill="none"/>
<path d="M324.6 443H410.4" stroke="#f00" stroke-width="1.8" stroke-dasharray="5.9 2.56" fill="none"/>
<path d="M324.6 390V469.4H410.4" stroke="#2a2a2a" stroke-width="1.15" fill="none"/>
<path d="M328.4 469.4v3.9M367.4 469.4v3.9M406.6 469.4v3.9M324.6 394.8h-3.9M324.6 443h-3.9" stroke="#000" stroke-width="0.95" fill="none"/>
<text x="328.4" y="486" text-anchor="middle">1</text>
<text x="367.4" y="486" text-anchor="middle">2</text>
<text x="406.6" y="486" text-anchor="middle">3</text>
<text x="316.7" y="399.1" text-anchor="end">20</text>
<text x="316.7" y="447.3" text-anchor="end">0</text>
<text x="367.5" y="501.9" text-anchor="middle" font-size="11.05">ABGMATH</text>
</g>
<text transform="translate(17.2 175) rotate(-90)" text-anchor="middle" font-size="11.4" word-spacing="0.6">SHAP value for different variables</text>
</g></svg>
</body></html>
